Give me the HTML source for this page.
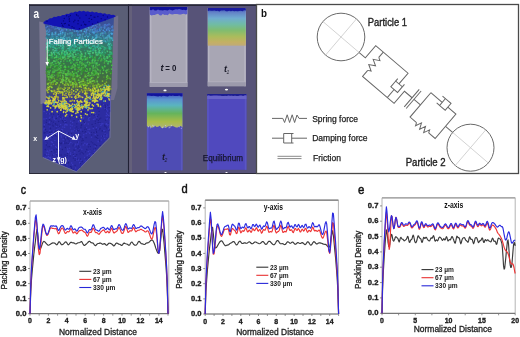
<!DOCTYPE html>
<html><head><meta charset="utf-8"><style>
html,body{margin:0;padding:0;background:#fff;width:520px;height:337px;overflow:hidden}
svg{display:block;filter:blur(0.5px)}
</style></head><body>
<svg width="520" height="337" viewBox="0 0 520 337">
<rect x="29" y="4.5" width="100" height="169" fill="#5a5e76"/>
<rect x="128.5" y="4.5" width="128" height="169" fill="#575378"/>
<rect x="129" y="4.5" width="3" height="169" fill="#64607a"/>
<defs>
<linearGradient id="t1g" x1="0" y1="0" x2="0" y2="1">
<stop offset="0" stop-color="#4058b8"/>
<stop offset="0.1" stop-color="#6484c8"/>
<stop offset="0.25" stop-color="#70acd0"/>
<stop offset="0.42" stop-color="#70bca4"/>
<stop offset="0.58" stop-color="#80bc70"/>
<stop offset="0.75" stop-color="#aabc5c"/>
<stop offset="0.9" stop-color="#c4b064"/>
<stop offset="1" stop-color="#c0aa78"/>
</linearGradient>
<linearGradient id="t2g" x1="0" y1="0" x2="0" y2="1">
<stop offset="0" stop-color="#4a66c4"/>
<stop offset="0.12" stop-color="#5c94d0"/>
<stop offset="0.3" stop-color="#5ab4c0"/>
<stop offset="0.55" stop-color="#66b45c"/>
<stop offset="0.8" stop-color="#a8bc48"/>
<stop offset="1" stop-color="#b0b478"/>
</linearGradient>
</defs>
<polygon points="39.2,21.5 44,22.5 46.4,30 46.3,106 42.5,104 40.5,104" fill="#7a7892"/>
<polygon points="113.5,17 118.2,15.5 117.4,88 114,100 110.8,100" fill="#706e8a"/>
<defs><linearGradient id="pb" gradientUnits="userSpaceOnUse" x1="0" y1="16" x2="0" y2="172"><stop offset="0.051" stop-color="#3a5098"/><stop offset="0.096" stop-color="#3a6090"/><stop offset="0.141" stop-color="#367088"/><stop offset="0.186" stop-color="#347a6c"/><stop offset="0.250" stop-color="#367650"/><stop offset="0.359" stop-color="#3c7044"/><stop offset="0.436" stop-color="#4a6a42"/><stop offset="0.474" stop-color="#4a5a5a"/><stop offset="0.513" stop-color="#404284"/><stop offset="0.564" stop-color="#343498"/></linearGradient></defs>
<polygon points="44.5,23 79,29.5 114,16.5 113.3,30 110.5,112 46.3,112 46.3,32" fill="url(#pb)"/>
<path d="M55.4 52.5h0M60.4 56.1h0M79.6 59.0h0M77.7 50.5h0M103.7 55.4h0M64.3 51.9h0M61.7 52.9h0M48.6 55.3h0M88.1 53.2h0M52.1 56.9h0M56.3 56.3h0M91.1 50.9h0M100.1 50.0h0M72.6 51.3h0M98.5 52.8h0M52.0 57.7h0M99.6 57.5h0M100.9 53.9h0M99.7 53.6h0M89.9 55.2h0M52.7 56.5h0M73.4 55.8h0M98.9 58.6h0M95.0 50.7h0M64.8 52.6h0M104.2 56.9h0M52.2 56.2h0M102.6 54.6h0M61.2 50.5h0M59.5 51.7h0M80.4 54.8h0M111.7 53.0h0M67.6 53.9h0M59.3 57.6h0M112.0 54.0h0M106.1 58.2h0M65.0 54.5h0M50.6 55.5h0M99.2 52.2h0M110.8 52.1h0M60.4 56.1h0M68.1 50.7h0M85.6 54.7h0M88.2 52.8h0M89.6 53.7h0M71.6 53.8h0M87.5 52.4h0M65.9 54.8h0M61.9 53.5h0M57.9 57.2h0M57.1 52.8h0M69.9 50.3h0M76.9 55.1h0" stroke="#30a860" stroke-width="1.7" stroke-linecap="round"/>
<path d="M51.0 30.1h0M107.0 29.8h0M96.3 25.6h0M72.4 29.5h0M92.3 27.1h0M70.3 29.2h0M110.1 24.8h0M94.6 29.0h0M51.3 27.4h0M93.5 26.7h0M110.4 28.5h0M88.4 28.9h0M65.2 28.5h0M87.0 27.1h0M95.5 25.9h0M77.8 32.0h0M99.0 27.2h0M55.4 25.4h0M51.7 26.1h0M100.0 27.2h0M64.2 27.6h0M109.1 24.6h0M53.4 28.0h0M51.2 25.2h0M99.4 27.1h0M104.6 25.2h0M99.9 25.3h0M49.2 26.4h0M94.4 27.7h0M103.3 25.3h0M66.0 28.0h0M66.2 28.9h0M50.3 24.4h0" stroke="#4860a8" stroke-width="1.7" stroke-linecap="round"/>
<path d="M73.1 74.8h0M94.9 74.2h0M106.6 79.4h0M53.5 72.2h0M58.1 75.9h0M98.3 74.4h0M110.6 73.5h0M91.8 72.8h0M94.2 72.3h0M67.4 75.2h0M71.8 75.5h0M58.8 75.8h0M109.4 78.1h0M91.5 78.8h0M58.7 73.8h0M87.8 80.7h0M90.0 79.2h0M57.0 79.6h0M71.8 74.8h0M52.5 77.3h0M73.9 74.4h0M77.6 75.3h0M77.6 75.0h0M91.5 77.6h0M96.2 74.0h0M85.0 76.6h0M48.4 71.0h0M78.0 76.3h0M88.0 79.6h0M94.7 74.4h0M71.0 73.5h0M64.0 73.2h0M52.8 74.4h0M51.8 74.5h0M56.8 79.5h0M73.6 75.7h0M53.5 71.8h0M84.6 77.3h0M79.5 75.7h0M70.4 74.6h0M52.9 72.3h0M47.3 75.9h0" stroke="#48a830" stroke-width="1.7" stroke-linecap="round"/>
<path d="M53.0 36.7h0M62.3 34.8h0M100.8 38.2h0M80.0 36.3h0M90.4 30.6h0M62.5 33.0h0M102.1 33.7h0M79.6 34.6h0M86.2 31.4h0M59.3 29.5h0M103.9 33.2h0M111.8 34.1h0M78.0 35.3h0M109.1 34.2h0M57.1 36.5h0M64.4 33.1h0M94.0 31.7h0M90.8 29.7h0M97.1 34.2h0M92.1 32.4h0M69.6 33.4h0M59.6 34.4h0M47.1 30.3h0M80.6 34.8h0M86.2 32.6h0M46.7 31.7h0M62.9 30.8h0M83.3 33.9h0M110.8 33.1h0M96.1 31.2h0M107.4 37.4h0M109.7 32.0h0M97.9 31.5h0M89.4 33.6h0M90.0 35.4h0M86.4 35.0h0M54.0 34.4h0M48.4 32.0h0M110.6 37.8h0M111.5 37.9h0M55.5 36.3h0M55.7 36.8h0" stroke="#4890c0" stroke-width="1.7" stroke-linecap="round"/>
<path d="M71.3 80.2h0M68.0 73.0h0M78.0 69.5h0M70.5 75.8h0M68.0 74.9h0M50.4 80.0h0M92.3 75.6h0M75.6 78.2h0M78.7 78.9h0M65.2 79.6h0M60.1 71.3h0M99.1 76.0h0M87.9 79.4h0M47.9 77.5h0M56.3 84.5h0M50.2 76.9h0M57.6 72.9h0M74.0 73.6h0M66.0 80.6h0M48.0 80.3h0M103.8 77.1h0M87.5 81.7h0M60.6 74.1h0M65.3 77.2h0M79.3 69.6h0M66.3 78.4h0M57.5 77.2h0M66.1 70.0h0M57.0 74.8h0M74.8 75.8h0M70.2 81.5h0M67.5 82.0h0M75.4 76.0h0M67.0 79.5h0M89.7 83.3h0M80.2 82.9h0M51.3 77.8h0M57.6 74.7h0M75.4 81.4h0M84.3 77.1h0M55.6 84.0h0M48.2 72.3h0M76.2 83.2h0M60.5 76.4h0M96.2 79.5h0M73.8 78.2h0M96.6 75.0h0M58.8 80.6h0M73.0 78.6h0M70.0 77.5h0M81.4 79.7h0M109.0 71.4h0M84.7 74.0h0M73.9 77.9h0M89.5 76.2h0M100.1 71.6h0M65.0 73.9h0M46.3 73.0h0M74.1 83.4h0M94.6 74.0h0M97.3 78.6h0M79.7 81.1h0M58.3 72.6h0M69.6 82.4h0M48.6 67.2h0M59.5 71.0h0M61.8 82.3h0M77.6 80.2h0M68.2 78.1h0M83.0 70.6h0M62.4 77.7h0M108.6 76.6h0M86.1 74.7h0M88.1 73.2h0M66.7 74.6h0" stroke="#489030" stroke-width="1.7" stroke-linecap="round"/>
<path d="M75.3 83.9h0M50.1 80.6h0M65.1 80.7h0M53.2 82.5h0M72.9 79.4h0M62.5 79.4h0M68.9 79.0h0M71.1 81.7h0M62.5 78.7h0M82.3 83.5h0M52.3 82.3h0M94.8 82.0h0M67.7 83.6h0M70.9 83.9h0M60.1 78.7h0M91.5 83.6h0M92.9 77.6h0M83.6 79.8h0M75.0 81.1h0M90.2 83.5h0M94.5 80.8h0M54.2 78.3h0M84.8 82.2h0M106.7 76.6h0M91.7 81.0h0M52.7 81.5h0M79.8 84.3h0M91.7 81.0h0M80.0 82.3h0M73.3 83.0h0M81.2 84.6h0M72.4 78.3h0M99.3 84.6h0M87.9 83.5h0M48.0 83.3h0M80.3 85.0h0M84.2 83.5h0M107.8 78.3h0M51.8 78.3h0M89.2 80.3h0M68.4 80.9h0M53.8 81.5h0M73.4 86.0h0M86.6 86.2h0M55.0 80.0h0M48.4 84.8h0" stroke="#60a830" stroke-width="1.7" stroke-linecap="round"/>
<path d="M94.8 93.9h0M91.5 95.1h0M56.0 96.6h0M61.6 101.9h0M78.8 104.1h0M85.1 105.4h0M63.6 106.7h0M79.4 101.9h0M56.2 95.0h0M70.2 101.1h0M78.7 93.3h0M53.5 102.0h0M78.9 105.5h0M74.3 100.8h0M46.9 102.1h0M78.3 94.1h0M86.7 96.3h0M79.7 95.8h0M80.5 101.6h0M62.8 97.9h0M49.6 101.6h0M76.7 106.8h0M75.9 95.9h0M71.5 92.3h0M84.8 93.6h0M74.9 97.1h0M56.6 93.2h0M54.9 100.8h0M87.5 102.4h0M89.9 102.9h0M97.2 95.2h0" stroke="#d8d830" stroke-width="1.7" stroke-linecap="round"/>
<path d="M65.2 88.2h0M48.4 83.5h0M58.8 88.9h0M58.5 87.1h0M51.0 84.1h0M90.7 89.8h0M64.5 84.8h0M81.3 87.1h0M86.1 85.4h0M100.7 85.9h0M88.5 83.3h0M96.9 86.7h0M68.1 84.4h0M93.7 87.2h0M96.3 87.6h0M85.5 87.7h0M65.9 85.0h0M105.0 83.7h0M75.8 83.1h0M96.9 91.1h0M72.4 84.8h0M55.9 84.2h0M86.6 88.6h0M67.8 89.4h0" stroke="#90c030" stroke-width="1.7" stroke-linecap="round"/>
<path d="M79.7 37.4h0M46.7 44.2h0M52.1 43.9h0M109.6 37.4h0M63.4 46.2h0M95.2 41.4h0M76.0 39.5h0M109.7 40.7h0M54.8 39.9h0M50.5 42.7h0M74.0 42.2h0M53.1 41.4h0M86.7 41.8h0M57.9 44.5h0M66.9 41.4h0M69.2 44.1h0M106.1 41.8h0M89.4 41.4h0M73.7 43.1h0M110.4 43.5h0M80.8 46.3h0M67.4 41.3h0M76.5 40.6h0M110.3 38.1h0M92.3 43.5h0M53.3 38.5h0M107.9 45.0h0M108.7 41.4h0" stroke="#48a8a8" stroke-width="1.7" stroke-linecap="round"/>
<path d="M77.3 75.0h0M55.1 70.5h0M57.4 66.1h0M68.0 58.3h0M96.3 72.3h0M93.1 67.9h0M58.0 67.6h0M80.0 61.8h0M49.1 72.2h0M102.4 67.2h0M71.7 68.3h0M66.7 74.2h0M85.0 65.3h0M93.2 62.6h0M73.5 73.7h0M85.3 66.8h0M65.1 66.0h0M81.6 63.2h0M105.0 61.0h0M80.8 62.1h0M97.7 69.6h0M89.5 62.7h0M58.2 62.2h0M58.2 62.7h0M74.8 69.3h0M85.2 70.6h0M70.9 62.9h0M77.8 64.7h0M79.9 62.7h0M74.8 69.0h0M67.8 73.7h0M73.8 60.3h0M70.7 67.8h0M76.7 73.1h0M86.9 69.1h0M59.6 68.7h0M90.3 75.5h0M92.9 59.2h0M73.8 64.1h0M111.9 65.3h0M95.7 73.4h0M52.9 69.1h0M90.4 64.1h0M68.7 71.4h0M103.6 70.1h0M111.6 69.0h0M51.1 65.2h0M70.7 67.6h0M62.7 58.4h0M64.3 67.0h0M106.0 70.9h0M59.3 72.7h0M72.4 66.0h0M66.0 75.5h0M61.0 67.6h0M99.2 64.6h0M95.3 70.9h0M65.2 69.3h0M48.6 60.9h0M110.8 61.4h0M82.4 64.5h0M96.8 72.7h0M88.9 65.0h0M56.2 65.8h0M70.4 60.5h0M75.0 58.8h0M96.1 71.4h0M86.4 71.0h0M88.3 73.5h0M93.7 62.8h0M51.9 75.5h0M57.7 69.9h0M107.0 70.4h0M95.5 60.2h0M90.0 68.7h0M96.0 72.0h0M65.7 67.2h0M53.9 72.3h0M54.5 66.8h0M63.6 73.2h0M104.9 66.6h0M77.6 75.7h0M81.5 67.9h0M80.4 57.6h0M93.9 75.0h0M55.9 63.4h0M50.2 77.5h0M104.7 66.0h0M89.0 73.8h0M78.4 67.6h0M96.0 65.1h0M79.8 67.4h0M54.6 71.6h0M110.7 61.9h0M54.0 64.5h0M54.4 58.0h0M86.0 58.4h0M68.2 70.7h0M78.2 71.4h0M75.1 65.0h0M66.8 75.4h0M60.9 70.5h0M60.6 70.3h0M76.2 63.2h0M68.7 66.7h0M60.2 65.5h0M92.5 73.2h0M74.5 65.0h0M75.3 65.8h0M83.6 64.0h0M92.1 62.8h0M102.9 68.1h0M87.0 69.4h0" stroke="#48c048" stroke-width="1.7" stroke-linecap="round"/>
<path d="M95.0 29.3h0M59.0 28.4h0M63.9 29.3h0M100.8 27.5h0M56.3 32.0h0M69.8 29.8h0M70.2 33.4h0M90.5 32.4h0M89.8 31.4h0M54.9 28.9h0M95.9 29.0h0M65.3 32.6h0M55.8 34.7h0M109.6 32.8h0M66.9 29.8h0M65.3 34.1h0M61.6 29.1h0M89.6 28.0h0M94.5 28.4h0M68.5 28.4h0M103.0 33.7h0M104.1 27.5h0M97.1 32.3h0M77.1 30.6h0M60.1 31.2h0M55.6 28.5h0M99.5 24.9h0M109.5 32.0h0M71.9 34.1h0M101.8 33.6h0M89.4 30.3h0M101.4 29.2h0M110.7 32.4h0M90.0 30.3h0M48.9 29.2h0M79.5 31.0h0M105.1 32.6h0M81.2 30.4h0M89.0 29.9h0M60.4 27.9h0M56.9 28.3h0M64.6 36.6h0M109.9 28.3h0M77.4 30.6h0M58.9 33.8h0" stroke="#4878a8" stroke-width="1.7" stroke-linecap="round"/>
<path d="M92.6 57.9h0M73.2 58.5h0M73.4 58.8h0M110.7 56.8h0M103.0 60.2h0M76.1 63.3h0M99.6 55.7h0M55.7 60.2h0M101.6 66.6h0M109.9 59.5h0M55.4 54.1h0M62.0 56.3h0M64.5 63.9h0M102.1 54.3h0M79.7 64.9h0M91.9 60.5h0M56.2 54.7h0M93.7 63.9h0M97.2 62.4h0M54.7 65.5h0M68.8 61.5h0M58.8 65.5h0M96.2 65.3h0M94.7 59.6h0M70.7 60.6h0M101.3 56.7h0M52.3 53.0h0M57.4 56.4h0M71.9 62.3h0M85.3 63.6h0M67.6 53.0h0M75.2 58.4h0M47.8 54.0h0M84.2 57.9h0M78.5 65.6h0M112.1 58.5h0M82.8 65.4h0M76.9 58.2h0M62.8 55.3h0M101.8 58.8h0M67.2 61.1h0M54.2 57.5h0M80.2 59.7h0M90.6 56.8h0M58.0 66.8h0M81.3 62.4h0M54.7 64.1h0M86.8 64.3h0M49.2 59.3h0M95.8 56.5h0M109.9 56.4h0M93.5 62.1h0M50.2 57.7h0M85.0 62.5h0M49.7 62.8h0M60.3 57.3h0M59.7 58.0h0M102.4 59.7h0M75.3 59.4h0M109.2 61.9h0M69.4 66.5h0M52.8 62.7h0M81.5 59.2h0M53.3 57.3h0M78.0 66.8h0M89.2 56.9h0M48.5 65.6h0" stroke="#309048" stroke-width="1.7" stroke-linecap="round"/>
<path d="M99.8 29.2h0M76.8 31.1h0M61.8 30.4h0M112.1 30.4h0M106.6 29.9h0M104.6 27.9h0M72.8 29.3h0M87.0 29.8h0M94.3 28.8h0M112.4 33.7h0M112.7 30.4h0M92.6 32.0h0M92.6 29.8h0M95.2 31.3h0M88.6 27.8h0M66.5 29.7h0M99.9 30.7h0M77.9 31.7h0M103.4 30.4h0M57.5 28.2h0M60.6 31.7h0M109.4 30.5h0M86.5 30.1h0M104.9 31.9h0M55.3 32.3h0M94.1 33.5h0M74.6 31.2h0" stroke="#4890d8" stroke-width="1.7" stroke-linecap="round"/>
<path d="M74.4 48.5h0M54.6 50.6h0M69.8 48.6h0M104.4 54.6h0M103.8 53.9h0M101.2 52.3h0M85.5 47.1h0M51.2 53.0h0M104.4 57.6h0M58.7 56.3h0M95.0 47.8h0M92.3 55.7h0M74.6 52.2h0M71.5 56.2h0M68.4 48.3h0M87.5 52.6h0M86.7 50.6h0M105.6 53.0h0M49.3 50.6h0M55.2 47.7h0M110.6 49.0h0M104.5 51.2h0M87.6 51.6h0M98.1 51.2h0M57.8 48.2h0M61.1 56.8h0M58.3 54.3h0M61.2 54.9h0M60.6 56.6h0M80.1 50.9h0M61.7 50.7h0M46.6 51.1h0M63.0 50.9h0M73.0 50.7h0M52.2 51.3h0M92.9 51.8h0M93.6 48.8h0M103.7 51.9h0M106.5 50.1h0M58.3 52.3h0M91.1 47.9h0M52.1 52.7h0M79.0 56.9h0" stroke="#309060" stroke-width="1.7" stroke-linecap="round"/>
<path d="M61.2 39.5h0M56.2 42.4h0M100.1 38.7h0M62.6 42.6h0M51.0 40.9h0M78.7 44.6h0M63.4 42.3h0M88.3 41.6h0M55.7 37.6h0M88.2 44.6h0M75.8 40.4h0M67.4 39.0h0M69.9 38.0h0M52.8 40.0h0M101.0 38.8h0M103.4 40.0h0M63.8 38.5h0M83.2 40.6h0M85.6 41.7h0M75.0 41.7h0M70.0 42.8h0M104.3 40.7h0M75.4 42.2h0M63.0 45.9h0M110.0 40.1h0M57.5 39.4h0M47.8 38.6h0M73.4 43.6h0M86.7 44.5h0M89.5 44.0h0M104.1 39.6h0M109.2 41.9h0M51.8 40.6h0M102.1 41.3h0M96.3 40.0h0M106.3 41.5h0M51.8 40.2h0M72.0 44.6h0M83.0 42.5h0M90.2 41.2h0M92.2 40.1h0M94.2 39.3h0M98.4 40.1h0M55.5 42.1h0M95.2 40.3h0M78.8 39.6h0M61.9 39.8h0M110.7 39.3h0M76.5 39.0h0M83.5 40.2h0M78.9 40.5h0M77.9 38.7h0M75.2 40.1h0M73.5 46.6h0M107.7 41.6h0M96.2 46.6h0M91.0 43.6h0M64.9 42.7h0M63.5 40.1h0M58.1 37.4h0M51.8 39.2h0M109.2 39.9h0M70.7 40.9h0M54.0 43.9h0M56.5 41.8h0M54.8 45.0h0M53.0 42.4h0M53.5 42.2h0M105.7 42.4h0M91.3 41.2h0M60.4 44.5h0" stroke="#309090" stroke-width="1.7" stroke-linecap="round"/>
<path d="M85.3 56.5h0M67.6 56.4h0M104.4 56.5h0M46.9 58.5h0M75.6 56.5h0M95.9 53.7h0M103.7 58.1h0M78.0 57.6h0M80.9 55.3h0M73.1 59.3h0M65.8 58.8h0" stroke="#48a860" stroke-width="1.7" stroke-linecap="round"/>
<path d="M70.7 32.9h0M63.6 33.2h0M87.4 33.3h0M100.6 29.1h0M65.4 37.8h0M82.9 34.1h0M94.8 28.8h0M60.4 34.4h0M77.9 32.2h0M94.9 36.6h0M104.9 32.9h0M64.8 32.6h0M48.0 34.9h0M74.3 30.6h0M84.6 29.6h0M88.5 35.6h0M91.3 31.4h0M53.4 36.8h0M94.0 33.5h0M100.7 34.0h0M98.3 34.2h0M105.3 37.4h0" stroke="#3078a8" stroke-width="1.7" stroke-linecap="round"/>
<path d="M69.5 46.2h0M63.2 48.6h0M53.1 49.8h0M58.1 52.9h0M95.7 52.2h0M54.9 50.8h0M104.6 47.7h0M58.8 45.2h0M73.1 49.6h0M109.8 49.3h0M99.0 52.0h0M88.8 53.5h0M98.5 48.9h0M54.2 53.0h0M67.0 52.9h0M100.8 48.3h0M69.8 48.8h0M79.6 47.8h0M63.5 47.1h0M100.1 47.5h0M99.8 52.6h0M104.6 49.0h0M79.5 48.5h0M109.5 47.4h0M46.8 47.2h0M56.3 50.2h0M53.6 52.3h0M102.3 52.1h0" stroke="#48c090" stroke-width="1.7" stroke-linecap="round"/>
<path d="M79.3 65.0h0M82.2 60.4h0M111.2 58.5h0M101.2 60.2h0M107.0 61.7h0M92.4 56.8h0M60.6 55.9h0M82.2 56.2h0M71.9 62.1h0M56.6 59.7h0M67.1 61.1h0M87.4 59.0h0M105.7 60.4h0M63.3 57.8h0M60.8 57.5h0M69.6 55.1h0M90.5 56.9h0M74.7 58.5h0M77.3 58.9h0M109.6 55.7h0M84.5 59.8h0M83.9 59.2h0M95.3 58.8h0M73.5 57.9h0M94.9 59.2h0M79.2 55.0h0" stroke="#30a848" stroke-width="1.7" stroke-linecap="round"/>
<path d="M60.8 89.1h0M90.3 86.2h0M72.8 85.1h0M93.1 83.3h0M85.2 82.4h0M69.0 83.6h0M93.2 84.0h0M82.8 83.2h0M52.3 84.6h0M90.6 83.2h0M95.9 84.6h0M75.4 83.5h0M58.9 86.6h0M50.5 85.3h0" stroke="#609030" stroke-width="1.7" stroke-linecap="round"/>
<path d="M109.6 37.3h0M96.1 37.6h0M93.8 42.5h0M85.4 39.8h0M54.6 42.0h0M62.9 38.4h0" stroke="#48c0c0" stroke-width="1.7" stroke-linecap="round"/>
<path d="M69.7 81.8h0M66.5 79.2h0M69.7 73.5h0M98.4 74.5h0M70.6 82.0h0M92.4 73.5h0M74.6 79.4h0M65.6 73.9h0M80.2 77.6h0M86.0 76.7h0M63.6 80.5h0M62.6 81.4h0M65.9 77.6h0M51.7 77.1h0M90.2 79.7h0M106.7 77.1h0M77.1 76.6h0M106.6 72.6h0M61.8 79.8h0M78.8 80.2h0M67.3 78.1h0M48.7 79.0h0M93.6 80.6h0M87.3 80.5h0M91.0 81.8h0M97.9 77.2h0M56.6 82.7h0M66.1 81.3h0M50.1 76.1h0M83.0 79.0h0M74.2 78.9h0M51.3 82.6h0M98.2 73.6h0M48.4 76.8h0M69.1 73.9h0M91.7 72.5h0M66.2 74.2h0M97.1 81.2h0M85.3 76.0h0M102.9 73.3h0M88.0 75.6h0M54.4 80.5h0M97.3 81.7h0M89.1 72.6h0M62.9 79.2h0M63.2 76.9h0M61.0 72.3h0M63.3 79.5h0M72.5 71.9h0M91.5 78.1h0M62.8 75.3h0M107.3 75.6h0M73.6 75.5h0" stroke="#60c048" stroke-width="1.7" stroke-linecap="round"/>
<path d="M82.4 81.2h0M80.4 85.6h0M62.8 83.4h0M102.5 81.1h0M83.3 81.2h0M75.7 86.5h0M76.9 84.2h0M57.3 82.9h0M73.1 84.1h0M85.4 84.7h0M97.6 87.7h0M90.1 81.6h0M73.3 86.7h0M83.6 85.5h0M51.5 86.9h0M68.6 85.2h0M96.4 85.5h0M65.9 83.0h0" stroke="#78c030" stroke-width="1.7" stroke-linecap="round"/>
<path d="M53.9 60.9h0M62.4 73.3h0M81.4 68.5h0M76.2 72.8h0M72.0 67.5h0M63.8 63.6h0M101.5 59.1h0M96.1 71.6h0M59.8 58.5h0M83.3 67.8h0M73.1 76.6h0M51.5 63.4h0M100.9 60.8h0M96.6 64.3h0M64.0 71.7h0M69.6 73.6h0M50.6 63.4h0M52.6 72.2h0M86.9 69.2h0M48.9 59.7h0M70.6 73.0h0M80.3 70.3h0M55.2 66.3h0M53.0 71.2h0M84.7 65.4h0M82.0 70.8h0M49.0 61.3h0M64.8 59.5h0M87.3 78.5h0M97.8 65.4h0M70.1 74.8h0M100.3 70.6h0M87.9 61.3h0M70.0 59.5h0M92.2 72.8h0M93.5 70.7h0M50.8 66.1h0M86.8 68.9h0M65.4 57.0h0M92.8 70.2h0M95.8 66.9h0M71.3 67.4h0M61.3 59.7h0M82.3 59.7h0M58.3 59.1h0M72.9 67.3h0M73.6 67.3h0M96.8 72.6h0M100.2 73.2h0M74.4 57.0h0M56.9 60.8h0M47.0 66.9h0M63.7 61.0h0M68.0 72.4h0M50.1 63.4h0M84.1 64.8h0M63.4 71.7h0M95.0 67.7h0M52.3 65.2h0M67.6 75.2h0M81.8 65.3h0M50.4 67.3h0M81.3 74.0h0M64.7 69.8h0M74.8 73.0h0M52.6 76.6h0M56.7 70.4h0M54.6 75.4h0M80.1 69.7h0M107.2 69.8h0M60.4 58.7h0M80.9 59.1h0M74.8 66.9h0M60.2 66.5h0M97.1 68.3h0M78.7 67.5h0M90.6 63.3h0M59.0 64.2h0M62.8 70.5h0M75.5 69.2h0M82.6 64.6h0M54.9 69.8h0M94.9 57.3h0M77.1 62.4h0M60.4 75.5h0M47.6 71.7h0M73.3 75.7h0M82.0 62.8h0M61.6 65.4h0M92.9 71.4h0M95.1 70.1h0M91.8 74.9h0M81.6 69.1h0M47.3 57.3h0M58.7 69.2h0M47.0 64.5h0M82.0 62.7h0M81.2 73.1h0M50.2 70.7h0M49.3 74.1h0M98.5 69.8h0M89.8 69.9h0M87.5 71.0h0M53.8 71.0h0M75.5 69.6h0M49.2 74.2h0M87.4 57.7h0M47.9 74.1h0M93.0 66.2h0M98.0 60.4h0M104.4 62.9h0M94.1 62.8h0" stroke="#48a848" stroke-width="1.7" stroke-linecap="round"/>
<path d="M82.2 70.8h0M68.9 69.4h0M57.3 68.0h0M89.7 73.2h0M86.5 70.2h0M55.0 68.4h0M56.6 66.4h0M67.4 67.2h0M80.5 67.5h0M90.6 64.5h0M57.5 66.4h0M53.0 65.6h0M83.2 65.8h0M111.3 72.2h0M84.4 70.5h0M46.4 70.6h0M101.1 69.5h0M52.7 69.5h0M83.4 68.7h0M93.5 71.9h0M62.0 63.5h0M82.2 72.8h0M70.5 67.4h0M61.6 68.3h0M74.0 72.0h0M88.9 65.7h0M76.6 66.1h0M65.6 70.6h0M75.0 71.3h0M47.2 68.3h0M94.7 73.1h0" stroke="#309030" stroke-width="1.7" stroke-linecap="round"/>
<path d="M110.1 61.2h0M81.0 58.6h0M106.9 56.8h0M106.7 60.6h0M68.0 54.7h0M94.8 61.0h0M108.4 61.7h0M81.9 54.4h0M61.8 53.8h0M69.9 53.7h0M56.6 55.9h0M54.9 57.5h0M100.6 55.7h0M47.4 59.3h0M52.3 62.6h0M85.8 59.5h0M96.9 63.2h0M109.5 56.4h0M93.3 65.8h0M108.0 63.7h0M92.7 60.4h0M92.3 60.9h0M81.2 56.4h0M74.2 56.9h0M76.9 60.0h0M87.3 62.6h0M64.1 57.6h0M69.2 56.7h0M69.6 54.0h0M64.4 56.0h0M81.4 56.7h0M55.0 61.4h0M51.5 55.1h0M69.7 60.6h0M48.5 60.0h0M104.7 59.0h0M95.9 63.0h0M78.3 60.0h0M53.9 61.0h0M107.6 58.1h0M68.9 56.8h0M63.6 57.7h0M52.0 54.6h0M98.2 54.0h0M56.4 57.3h0M60.8 61.5h0M59.8 63.2h0M86.0 65.7h0M89.8 57.5h0" stroke="#48c060" stroke-width="1.7" stroke-linecap="round"/>
<path d="M53.8 47.6h0M84.6 50.5h0M62.3 44.7h0M47.0 44.0h0M109.6 45.9h0M51.8 46.0h0M74.9 45.9h0M78.1 47.6h0M83.8 47.0h0M79.7 46.1h0M100.0 46.9h0M70.1 47.2h0M61.5 46.5h0M47.1 47.4h0M51.7 45.9h0M99.0 44.8h0M111.2 48.7h0M90.3 48.3h0M81.7 45.8h0M100.7 44.8h0M59.8 48.0h0M47.5 47.8h0M56.4 45.8h0M108.2 48.1h0M102.6 46.5h0M85.4 43.0h0M104.3 48.4h0M102.3 50.9h0M108.9 44.4h0M75.9 46.6h0M71.7 48.1h0M82.7 47.1h0M54.0 46.9h0M47.7 48.5h0M81.4 44.4h0M56.0 48.7h0M86.5 40.5h0" stroke="#309078" stroke-width="1.7" stroke-linecap="round"/>
<path d="M84.2 88.5h0M62.7 88.8h0M46.8 89.7h0M100.7 91.2h0M67.7 91.8h0M51.0 90.6h0M110.8 88.9h0M87.4 93.3h0M70.9 85.2h0M60.9 88.0h0M69.2 87.7h0M87.6 90.4h0M104.0 87.5h0M80.3 86.3h0M86.3 93.3h0M57.2 91.4h0M79.8 91.7h0M54.1 90.3h0M82.6 92.1h0M53.9 91.4h0M81.5 89.9h0M57.3 89.2h0M92.5 89.3h0M102.7 84.9h0M106.3 88.8h0" stroke="#90a830" stroke-width="1.7" stroke-linecap="round"/>
<path d="M97.8 30.2h0M47.5 26.5h0M93.2 25.5h0M111.7 26.9h0M51.3 25.1h0M107.7 24.9h0M104.9 24.8h0M92.4 26.1h0M91.2 27.6h0M95.2 25.5h0M86.0 29.2h0M95.1 28.4h0M58.8 28.7h0" stroke="#4878d8" stroke-width="1.7" stroke-linecap="round"/>
<path d="M92.8 100.6h0M79.5 103.0h0M65.1 97.5h0M57.7 97.0h0M64.9 95.1h0M101.5 90.1h0M69.0 95.0h0M86.5 95.4h0M86.7 98.1h0M63.0 99.4h0M84.5 104.9h0M82.4 106.7h0M80.6 100.7h0M76.3 107.0h0M51.8 97.2h0M56.0 94.5h0M78.6 95.7h0M85.6 92.6h0M62.8 94.3h0M78.8 97.1h0M47.9 97.9h0M52.5 100.9h0M107.9 94.1h0M53.2 99.4h0M60.9 101.2h0M87.8 97.5h0M79.7 108.3h0M68.7 94.3h0M58.8 91.2h0M55.2 92.3h0M82.4 108.1h0M53.0 98.2h0M78.1 103.8h0M81.0 96.8h0M62.8 92.2h0M66.9 97.4h0M93.4 93.9h0M92.4 100.9h0M76.9 94.9h0M50.0 103.4h0M55.6 97.4h0M46.6 97.0h0M53.8 93.9h0M85.6 94.2h0M71.8 97.2h0" stroke="#c0c030" stroke-width="1.7" stroke-linecap="round"/>
<path d="M76.6 37.9h0M71.4 40.7h0M50.5 39.9h0M60.5 43.5h0M62.8 42.2h0M79.4 39.3h0M79.1 38.1h0M49.4 43.1h0M55.5 43.8h0M68.3 42.3h0M56.5 41.8h0M73.0 39.7h0" stroke="#30a8a8" stroke-width="1.7" stroke-linecap="round"/>
<path d="M70.2 51.2h0M65.9 54.2h0M50.6 47.3h0M75.0 52.1h0M104.1 49.8h0M105.8 48.1h0M61.9 51.3h0M105.2 52.5h0M91.1 47.4h0M46.6 48.3h0M110.8 54.0h0M74.7 52.0h0M109.9 47.3h0M63.4 48.2h0M59.2 47.5h0M90.7 56.2h0M73.8 52.3h0M56.9 52.3h0M97.2 53.0h0M104.9 48.0h0M71.2 46.9h0M97.3 47.2h0M96.0 50.5h0M103.1 46.6h0M111.3 52.7h0M67.2 46.0h0M81.2 47.2h0M108.3 54.8h0M101.8 46.1h0M81.2 46.5h0M75.7 50.4h0M63.5 49.9h0M57.0 48.6h0M62.6 51.3h0M62.6 47.1h0M47.9 47.8h0M78.1 53.5h0M76.8 50.1h0M109.4 49.1h0M71.3 50.2h0M74.3 49.3h0M95.4 48.4h0M72.9 49.2h0M109.9 54.2h0M79.3 50.4h0M53.3 45.9h0M77.9 47.9h0M93.0 49.0h0M66.4 50.4h0M46.3 49.2h0M48.1 52.1h0M101.8 53.7h0" stroke="#30a878" stroke-width="1.7" stroke-linecap="round"/>
<path d="M80.8 41.7h0M88.0 36.5h0M95.0 41.3h0M70.5 38.9h0M63.6 39.6h0M52.6 36.5h0M66.5 37.6h0M72.2 35.2h0M60.2 35.1h0M71.4 33.1h0M49.9 42.4h0M67.9 43.9h0M76.5 39.1h0M108.5 35.8h0M92.5 36.8h0M59.7 42.6h0M87.8 39.2h0M64.3 39.0h0M61.5 38.2h0M52.1 36.2h0M94.5 41.8h0M75.6 40.7h0M89.6 39.9h0" stroke="#3090a8" stroke-width="1.7" stroke-linecap="round"/>
<path d="M46.1 27.7h0M105.3 24.6h0M85.4 28.8h0M99.6 24.4h0M85.2 28.2h0M108.6 28.8h0M96.1 31.4h0M55.0 28.0h0M62.2 29.5h0M74.3 29.8h0M57.1 27.9h0M108.5 27.8h0M49.9 24.6h0M104.2 26.7h0M77.6 34.2h0M96.7 26.7h0M103.1 33.4h0M49.4 30.2h0M49.5 31.6h0M101.8 27.3h0M58.3 27.8h0M108.8 29.1h0M53.4 27.0h0M112.6 26.2h0M107.3 28.4h0M113.0 30.1h0M56.3 25.9h0M62.5 29.9h0M108.3 29.4h0M95.3 32.0h0M85.8 32.9h0M70.3 30.1h0M109.0 24.1h0M105.0 26.8h0M106.7 25.4h0M95.2 30.9h0M60.6 27.4h0M101.0 27.0h0M112.3 27.7h0" stroke="#4878c0" stroke-width="1.7" stroke-linecap="round"/>
<path d="M82.2 36.3h0M55.6 33.6h0M111.9 38.2h0M47.0 33.9h0M85.1 36.5h0M92.5 38.9h0M56.7 38.4h0M89.5 41.5h0M67.0 39.0h0M92.9 37.3h0M64.3 36.2h0M50.0 41.0h0M94.6 39.2h0M51.1 38.3h0M60.8 37.8h0M82.8 38.4h0M106.7 37.4h0M98.4 41.0h0M111.5 38.4h0M65.0 34.9h0M92.7 41.1h0M100.5 35.0h0M63.2 39.4h0M103.6 36.6h0M87.9 36.6h0M95.4 38.5h0M70.4 33.2h0M54.9 40.1h0M95.7 40.9h0M102.1 33.1h0M96.7 37.6h0M105.3 41.2h0M69.6 39.4h0M105.7 38.1h0M83.5 39.6h0M46.4 38.0h0M64.3 38.7h0M64.6 39.6h0M63.2 37.5h0M58.7 38.7h0M108.0 35.8h0M60.9 37.3h0M49.7 41.0h0M112.6 40.2h0" stroke="#48a8c0" stroke-width="1.7" stroke-linecap="round"/>
<path d="M98.4 94.2h0M97.7 94.1h0M69.8 96.7h0M94.1 93.7h0M87.5 100.0h0M85.6 93.6h0M77.2 107.2h0M70.4 94.6h0M68.2 108.6h0M63.4 104.9h0M62.7 95.5h0M86.9 103.4h0M58.7 93.3h0M72.4 100.3h0M85.5 91.5h0M92.7 98.3h0M85.3 98.7h0M66.2 95.5h0M53.6 93.7h0M78.9 102.4h0M54.4 106.3h0M93.5 93.0h0M68.7 93.6h0M69.8 106.5h0M71.0 101.2h0M60.7 93.0h0M82.6 91.8h0M57.9 99.1h0M58.3 97.4h0M54.7 90.9h0M76.9 97.5h0M71.7 93.9h0M48.8 100.7h0" stroke="#a8a830" stroke-width="1.7" stroke-linecap="round"/>
<path d="M82.2 36.5h0M82.7 34.1h0M76.1 38.9h0M72.2 32.9h0M106.5 38.6h0M95.4 35.5h0M97.7 37.0h0M69.3 37.3h0M61.1 39.3h0M104.1 38.3h0M99.3 37.1h0M103.2 36.0h0M67.7 33.9h0M81.2 39.1h0M90.3 34.9h0M109.1 36.9h0M75.2 35.4h0M58.4 38.6h0M82.5 37.8h0M100.6 33.6h0M107.5 38.4h0M72.0 36.4h0M102.7 35.6h0M65.1 35.5h0M105.5 33.3h0M103.1 41.0h0M107.5 40.1h0M65.4 33.0h0M59.8 40.3h0M74.4 39.7h0M97.5 35.8h0M91.9 39.1h0M74.4 41.0h0M75.9 39.0h0M80.5 37.3h0M68.0 37.5h0M109.3 32.0h0" stroke="#4890a8" stroke-width="1.7" stroke-linecap="round"/>
<path d="M109.4 86.7h0M72.8 82.9h0M51.9 87.5h0M98.1 84.0h0" stroke="#90d830" stroke-width="1.7" stroke-linecap="round"/>
<path d="M95.6 26.8h0M56.2 27.5h0M54.2 27.8h0M102.6 26.3h0M98.4 30.1h0" stroke="#3060a8" stroke-width="1.7" stroke-linecap="round"/>
<path d="M62.6 35.3h0M72.8 36.9h0M62.9 41.9h0M75.5 35.3h0M46.4 36.7h0M90.4 41.3h0M100.0 39.9h0M73.7 34.7h0M68.2 30.7h0M70.2 33.0h0M95.2 35.6h0M54.4 37.1h0M95.5 40.8h0M48.8 41.0h0M90.4 35.5h0M87.6 34.2h0M105.6 34.3h0M96.8 33.8h0M55.0 36.4h0M109.9 32.6h0M74.9 38.2h0M104.2 36.3h0M81.4 36.7h0M79.7 39.2h0M46.7 42.7h0" stroke="#307890" stroke-width="1.7" stroke-linecap="round"/>
<path d="M64.1 53.8h0M70.6 52.1h0M66.1 51.2h0M90.5 51.4h0M54.6 54.6h0M90.6 48.5h0M77.0 49.7h0M65.2 54.9h0" stroke="#30c078" stroke-width="1.7" stroke-linecap="round"/>
<path d="M49.2 45.8h0M74.5 44.6h0M98.1 44.8h0M47.3 43.5h0M47.7 45.9h0M72.6 45.4h0M75.8 46.4h0M46.7 47.2h0M62.5 48.1h0M56.6 44.6h0M97.8 46.8h0M62.9 44.9h0M91.6 42.9h0M94.5 45.8h0M84.9 44.9h0M48.4 42.2h0M89.9 43.6h0M109.3 44.5h0M109.9 47.0h0M98.8 41.3h0M68.1 48.5h0M63.1 42.6h0M89.2 47.7h0M108.6 43.8h0M60.8 45.8h0M48.0 43.7h0M75.2 43.3h0" stroke="#48c0a8" stroke-width="1.7" stroke-linecap="round"/>
<path d="M93.3 52.8h0M89.7 51.5h0M62.8 57.1h0M67.3 53.1h0M74.9 50.6h0M95.4 50.4h0M61.9 52.5h0M72.8 54.1h0M85.4 53.1h0M99.4 50.6h0M51.3 52.5h0M62.9 50.5h0M90.0 51.3h0M107.4 51.4h0M70.7 55.9h0M80.8 51.8h0M84.4 56.4h0M109.9 52.0h0M55.5 48.3h0M51.9 53.6h0M73.8 52.3h0M87.9 51.1h0M96.4 54.9h0M81.5 53.5h0M107.7 57.0h0M59.5 54.1h0M97.6 55.0h0M69.1 56.3h0M75.7 54.3h0M99.4 50.7h0M89.8 53.5h0M73.0 54.9h0M92.7 52.9h0M64.7 51.9h0M49.7 55.2h0M64.9 51.8h0M72.9 57.0h0M48.5 50.3h0M95.8 52.5h0" stroke="#48c078" stroke-width="1.7" stroke-linecap="round"/>
<path d="M77.7 101.7h0M90.1 97.2h0M62.9 103.2h0M68.2 104.0h0M70.0 109.5h0M66.0 101.8h0M61.1 104.5h0M54.6 96.9h0M80.4 107.7h0" stroke="#d8c030" stroke-width="1.7" stroke-linecap="round"/>
<path d="M47.2 90.7h0M94.9 92.1h0M93.5 91.2h0M97.7 91.2h0M71.8 89.4h0M85.1 90.3h0M66.0 93.3h0M62.6 93.3h0M57.3 91.7h0M69.1 88.1h0M106.8 87.9h0M97.3 90.4h0M92.7 88.5h0M66.2 90.8h0M49.9 96.7h0M92.7 89.7h0M94.9 88.7h0M95.1 89.5h0M48.0 92.4h0M64.5 91.3h0M93.0 92.3h0M89.3 90.0h0M93.0 93.0h0M98.5 89.3h0M90.4 90.3h0M95.9 90.5h0M88.7 88.4h0M60.6 92.0h0M97.6 92.4h0M57.8 89.2h0M92.0 90.8h0M102.6 89.0h0M95.6 94.7h0M69.3 92.2h0M74.0 94.0h0" stroke="#a8c030" stroke-width="1.7" stroke-linecap="round"/>
<path d="M105.4 85.2h0M101.2 85.3h0M76.1 89.3h0M87.4 85.3h0M103.5 91.5h0M47.8 87.1h0M92.8 86.2h0M50.0 82.6h0M106.4 82.2h0M59.8 88.3h0M64.5 87.4h0M97.8 85.3h0M84.1 85.2h0M93.0 85.4h0M47.5 88.4h0M73.0 87.5h0M73.6 85.0h0M77.6 86.5h0M61.5 81.0h0M94.4 85.7h0M59.4 85.0h0M77.7 86.6h0M109.8 88.3h0" stroke="#78a830" stroke-width="1.7" stroke-linecap="round"/>
<path d="M50.7 102.4h0M70.7 108.8h0M72.2 109.1h0M70.9 110.7h0M61.6 108.3h0" stroke="#c0a830" stroke-width="1.7" stroke-linecap="round"/>
<path d="M77.7 44.6h0M62.1 48.7h0M86.2 44.5h0M73.8 49.8h0M95.6 41.7h0M88.3 45.7h0M69.2 50.3h0M56.7 50.6h0M54.7 43.5h0M80.0 44.8h0M111.5 45.2h0M92.6 46.2h0M97.1 46.6h0M109.8 43.5h0M100.1 40.9h0M50.7 46.2h0M93.7 45.8h0M93.0 50.5h0M70.9 46.4h0M71.1 42.1h0M85.2 45.0h0M74.9 46.9h0M90.4 43.1h0M46.5 43.3h0M66.3 44.0h0M77.0 49.5h0M110.5 47.7h0M94.0 45.7h0M75.2 45.4h0M59.5 41.7h0M52.9 47.2h0M54.4 47.8h0M108.9 46.6h0M69.5 47.8h0M93.6 49.3h0M95.2 47.4h0M50.7 44.1h0" stroke="#30a890" stroke-width="1.7" stroke-linecap="round"/>
<path d="M59.7 91.8h0M51.8 91.1h0M64.0 89.7h0M73.6 90.8h0M85.7 93.3h0M61.8 92.0h0M93.3 90.3h0M77.6 89.8h0M90.2 89.7h0" stroke="#c0d830" stroke-width="1.7" stroke-linecap="round"/>
<path d="M96.5 27.5h0M107.4 25.4h0M52.5 26.7h0M52.6 26.3h0M97.3 24.3h0" stroke="#4860c0" stroke-width="1.7" stroke-linecap="round"/>
<path d="M90.9 33.0h0" stroke="#306090" stroke-width="1.7" stroke-linecap="round"/>
<path d="M53.3 84.2h0M76.9 85.2h0M87.5 90.3h0M68.5 91.0h0M67.4 87.6h0M77.6 86.9h0M85.0 89.1h0M82.9 90.5h0M93.5 88.6h0M69.9 90.7h0M99.9 86.5h0M75.5 87.0h0M83.6 88.0h0" stroke="#789030" stroke-width="1.7" stroke-linecap="round"/>
<path d="M84.4 31.5h0M52.2 33.0h0M62.6 32.5h0M52.1 34.6h0M79.3 37.9h0M81.2 30.8h0M93.9 32.7h0M60.6 33.4h0M96.1 35.1h0M96.5 37.1h0M109.4 36.0h0M49.1 34.6h0M111.5 33.7h0M58.4 34.6h0" stroke="#48a8d8" stroke-width="1.7" stroke-linecap="round"/>
<path d="M48.5 87.5h0M99.5 86.6h0M76.0 91.8h0M79.7 86.5h0M100.8 88.9h0M103.1 89.5h0M83.7 85.4h0M51.9 91.4h0M85.3 87.9h0M48.8 89.4h0M49.9 86.6h0M104.7 88.2h0" stroke="#a8d830" stroke-width="1.7" stroke-linecap="round"/>
<path d="M72.5 84.3h0M47.5 84.1h0M90.0 82.2h0M54.9 81.3h0M68.9 80.0h0M81.1 81.7h0M75.7 84.8h0M61.9 82.0h0M92.6 81.2h0M106.3 85.5h0M76.3 84.4h0M60.7 82.3h0M69.7 81.6h0" stroke="#78c048" stroke-width="1.7" stroke-linecap="round"/>
<path d="M91.7 65.9h0M54.4 69.6h0M57.1 69.0h0M108.6 69.3h0" stroke="#489048" stroke-width="1.7" stroke-linecap="round"/>
<path d="M49.2 88.5h0M86.5 89.9h0M89.4 89.2h0M90.6 91.6h0M71.9 92.4h0M76.3 95.1h0" stroke="#909030" stroke-width="1.7" stroke-linecap="round"/>
<path d="M59.4 104.8h0M63.0 101.2h0M72.1 107.4h0M53.8 100.3h0M54.2 99.7h0" stroke="#f0d830" stroke-width="1.7" stroke-linecap="round"/>
<path d="M54.0 80.9h0M74.2 83.7h0M83.0 84.4h0M87.2 83.0h0" stroke="#60c030" stroke-width="1.7" stroke-linecap="round"/>
<path d="M86.1 46.0h0M100.1 48.1h0M109.5 48.5h0" stroke="#30c090" stroke-width="1.7" stroke-linecap="round"/>
<path d="M53.0 76.7h0M110.3 78.8h0" stroke="#60a848" stroke-width="1.7" stroke-linecap="round"/>
<path d="M79.2 82.6h0" stroke="#78d848" stroke-width="1.7" stroke-linecap="round"/>
<path d="M99.0 41.4h0" stroke="#307878" stroke-width="1.7" stroke-linecap="round"/>
<polygon points="42.5,103.2 43.0,103.2 45.0,104.2 47.0,104.3 49.0,105.3 51.0,105.3 53.0,107.2 55.0,107.7 57.0,106.5 59.0,109.0 61.0,109.4 63.0,108.5 65.0,110.3 67.0,111.0 69.0,111.0 71.0,110.7 73.0,111.1 75.0,111.2 77.0,109.9 79.0,110.1 81.0,108.7 83.0,108.2 85.0,109.0 87.0,106.9 89.0,106.5 91.0,104.5 93.0,103.8 95.0,101.5 97.0,99.6 99.0,99.8 101.0,97.8 103.0,96.8 105.0,96.7 107.0,96.3 109.0,96.8 110.5,95.5 109.5,137.0 76.5,171.5 42.5,157.0" fill="#2c2ca2"/>
<polyline points="110.6,96 110,137.5 76.5,171.8 43,157.5" fill="none" stroke="#7878b8" stroke-width="0.8" opacity="0.8"/>
<clipPath id="bedc"><polygon points="42.5,103.2 43.0,103.2 45.0,104.2 47.0,104.3 49.0,105.3 51.0,105.3 53.0,107.2 55.0,107.7 57.0,106.5 59.0,109.0 61.0,109.4 63.0,108.5 65.0,110.3 67.0,111.0 69.0,111.0 71.0,110.7 73.0,111.1 75.0,111.2 77.0,109.9 79.0,110.1 81.0,108.7 83.0,108.2 85.0,109.0 87.0,106.9 89.0,106.5 91.0,104.5 93.0,103.8 95.0,101.5 97.0,99.6 99.0,99.8 101.0,97.8 103.0,96.8 105.0,96.7 107.0,96.3 109.0,96.8 110.5,95.5 109.5,137.0 76.5,171.5 42.5,157.0"/></clipPath>
<path clip-path="url(#bedc)" d="M90.0 132.7h0M73.1 143.6h0M52.6 123.7h0M83.9 166.0h0M83.7 117.8h0M107.9 156.5h0M58.7 128.3h0M46.2 154.3h0M58.4 158.5h0M91.4 155.2h0M81.3 120.0h0M46.4 143.2h0M44.9 138.3h0M95.1 113.3h0M72.8 139.7h0M54.0 117.3h0M84.3 115.5h0M54.0 118.6h0M105.8 163.2h0M51.3 141.8h0M71.1 106.0h0M60.6 146.9h0M45.3 167.3h0M62.8 127.0h0M106.6 113.2h0M52.6 135.2h0M64.7 125.1h0M82.5 166.7h0M71.4 106.9h0M68.6 160.3h0M72.6 108.0h0M60.5 119.0h0M67.1 125.0h0M88.3 151.5h0M46.9 113.6h0M98.3 161.8h0M96.0 115.7h0M89.7 109.0h0M88.6 118.6h0M99.4 159.7h0M74.8 151.9h0M106.3 162.9h0M86.7 144.7h0M67.6 149.1h0M53.3 134.2h0M49.6 110.1h0M88.1 132.1h0M57.7 166.6h0M63.2 139.6h0M76.4 116.2h0M109.6 154.1h0M102.9 123.8h0M104.1 164.1h0M106.2 115.7h0M54.3 109.5h0M49.9 150.3h0M47.3 134.7h0M67.4 152.1h0M47.1 151.6h0M107.2 123.6h0M70.6 152.9h0M64.2 159.9h0M109.8 118.7h0M75.0 113.6h0M80.8 130.0h0M108.2 152.0h0M109.5 157.5h0M98.4 129.2h0M87.9 111.5h0M67.0 164.8h0M108.7 115.4h0M76.7 130.7h0M84.9 143.2h0M61.2 162.1h0M73.7 155.2h0M91.7 168.7h0M78.0 142.9h0M94.9 119.1h0M47.0 157.7h0M89.8 153.5h0M96.8 117.2h0M101.9 146.3h0M106.3 140.7h0M101.1 107.8h0M54.9 140.5h0M88.1 129.5h0M48.8 162.5h0M48.7 162.7h0M59.4 150.6h0M83.1 119.6h0M65.7 119.9h0M79.2 122.3h0M79.9 122.6h0M51.9 150.0h0M61.3 166.6h0M70.7 121.3h0M91.4 163.5h0M68.4 152.4h0M65.9 169.6h0M63.8 106.4h0M44.3 139.8h0M85.2 122.9h0M71.3 131.0h0M68.0 116.5h0M79.9 148.0h0M45.8 162.2h0M61.1 135.4h0M58.4 148.4h0M70.8 142.4h0M70.9 137.5h0M49.7 168.8h0M72.1 125.8h0M99.9 123.4h0M96.2 132.0h0M51.7 141.9h0M62.5 117.3h0M109.3 165.8h0M75.1 157.3h0M88.2 124.0h0M52.5 142.4h0M56.6 153.8h0M83.3 118.5h0M95.3 167.9h0M75.7 168.0h0M73.7 105.2h0M74.5 127.3h0M104.6 138.5h0M107.4 114.7h0M69.3 104.9h0M47.4 150.9h0M46.2 118.7h0M72.7 164.8h0M59.6 104.3h0M90.3 150.0h0M53.2 165.2h0M101.1 165.8h0M98.4 140.1h0M90.3 112.2h0M86.5 127.4h0M66.2 124.7h0M49.3 157.5h0M94.4 104.6h0M77.9 105.5h0M80.0 115.0h0M107.4 125.0h0M78.5 121.3h0M103.7 104.5h0M64.0 118.9h0M93.3 128.5h0M100.9 125.6h0M52.3 134.0h0M49.7 114.1h0M78.5 141.9h0M58.1 115.9h0M78.4 133.4h0M75.8 148.3h0M53.3 104.8h0M48.3 156.5h0M90.4 114.1h0M65.8 124.3h0M104.9 131.2h0M91.1 109.7h0M46.7 118.9h0M86.3 133.5h0M101.6 158.3h0M87.9 169.8h0M107.4 162.3h0M49.9 130.4h0M53.6 144.4h0M77.3 110.1h0M49.2 134.7h0M85.2 130.8h0M75.1 145.9h0M90.1 150.7h0M71.4 115.3h0M101.4 106.7h0M57.6 116.6h0M83.2 145.0h0M50.6 138.0h0M81.9 149.3h0M48.9 152.0h0M61.8 129.4h0M52.2 159.6h0M84.8 157.6h0M78.0 111.3h0M70.5 109.2h0M50.5 157.2h0M44.0 129.7h0M46.8 154.4h0M109.4 106.2h0M68.0 168.4h0M60.6 124.5h0M109.2 164.8h0M69.5 148.3h0M96.4 127.4h0M44.1 128.7h0M89.7 167.6h0M73.1 131.1h0M69.1 144.1h0M45.5 164.2h0M107.0 106.1h0M44.4 124.7h0M53.6 154.8h0M101.4 140.0h0M106.3 119.1h0M56.9 129.3h0M73.8 117.1h0M104.8 153.6h0M63.0 118.9h0M62.7 130.1h0M87.2 155.2h0M106.7 109.4h0M56.9 129.1h0M106.8 134.2h0M91.5 158.7h0M74.4 128.9h0M95.2 146.3h0M109.5 121.9h0M106.9 136.1h0M101.3 146.3h0M81.2 160.5h0M49.3 122.5h0M76.2 158.1h0M56.3 155.5h0M49.8 127.1h0M74.6 151.2h0M78.5 160.1h0M89.7 129.3h0M78.4 129.7h0M101.6 124.0h0M55.9 120.1h0M60.5 157.4h0M89.3 120.2h0M71.7 163.1h0M107.4 118.7h0M106.3 107.8h0M109.9 125.2h0M107.0 106.1h0M89.4 165.0h0M98.1 141.8h0M54.3 119.6h0M106.2 161.2h0M58.6 126.7h0M84.5 124.0h0M58.1 161.3h0M51.3 145.8h0M70.8 135.0h0M101.5 153.2h0M95.1 105.1h0M97.5 156.3h0M44.0 118.9h0M92.2 161.4h0M79.6 162.7h0M49.8 121.1h0M98.1 156.4h0M58.7 141.6h0M72.9 152.8h0M70.3 125.1h0M94.3 149.9h0M67.9 151.1h0M61.3 137.0h0M56.4 126.7h0M71.6 109.8h0M64.6 127.2h0M65.6 137.4h0M103.4 160.1h0M63.5 112.9h0M49.8 162.4h0M94.2 152.8h0M103.9 130.5h0M55.3 110.0h0M70.4 154.7h0M49.6 132.9h0M49.4 118.1h0M80.5 146.9h0M106.2 125.1h0M59.3 108.1h0M56.4 106.3h0M44.1 111.6h0M79.4 134.1h0M103.8 136.1h0M49.7 113.6h0M90.2 168.7h0M93.5 119.5h0M66.8 132.9h0M72.6 122.6h0M54.2 105.7h0M102.1 168.4h0M108.6 129.1h0M89.4 117.6h0M51.4 104.2h0M66.0 156.7h0M78.8 119.4h0M75.8 139.7h0M56.9 133.5h0M105.3 133.5h0M109.4 151.7h0M52.5 164.6h0M89.7 133.2h0M56.5 147.5h0M56.6 134.5h0M54.0 131.3h0M107.8 143.5h0M77.8 144.8h0M87.2 143.8h0M62.8 118.0h0M84.0 165.3h0M101.5 136.2h0M63.5 142.8h0M47.1 136.8h0M95.7 167.9h0M50.0 117.2h0M75.7 144.2h0M107.6 111.1h0M52.5 136.0h0M96.4 105.9h0M69.1 150.9h0M71.8 115.8h0M48.7 154.2h0M77.7 139.5h0M89.1 154.3h0M70.5 128.1h0M104.7 109.0h0M95.3 134.4h0M79.2 120.5h0M106.2 124.1h0M65.2 107.9h0M102.8 158.8h0M47.3 113.8h0M63.0 105.9h0M76.8 160.0h0M91.5 137.2h0M108.6 124.1h0M65.0 121.5h0M83.8 134.8h0M52.2 136.5h0M107.8 161.9h0M85.2 160.9h0M76.1 136.8h0M89.9 117.3h0M83.2 137.1h0M63.7 136.8h0M55.7 146.4h0M51.6 133.5h0M47.7 139.6h0M50.4 158.4h0M45.2 157.2h0M63.7 167.0h0M65.7 113.5h0M88.2 120.1h0" stroke="#3a3ac0" stroke-width="1.5" stroke-linecap="round"/>
<path clip-path="url(#bedc)" d="M97.7 135.5h0M61.6 143.0h0M58.7 121.5h0M49.4 119.7h0M58.4 114.5h0M71.5 133.7h0M83.2 140.4h0M89.0 144.5h0M75.1 160.4h0M53.3 122.1h0M44.8 164.0h0M102.1 130.9h0M99.6 141.1h0M105.4 163.5h0M65.9 122.4h0M71.4 167.1h0M74.9 127.9h0M45.6 129.4h0M105.1 131.7h0M96.5 163.2h0M105.9 152.4h0M76.8 123.8h0M106.1 157.1h0M93.1 107.7h0M86.8 149.5h0M52.9 125.6h0M74.0 120.7h0M51.1 114.0h0M74.2 104.9h0M96.4 131.5h0M62.4 120.6h0M64.9 143.5h0M91.2 132.4h0M91.2 141.8h0M97.5 152.1h0M94.5 105.6h0M67.2 111.6h0M98.8 114.8h0M105.0 126.6h0M54.1 150.0h0M56.2 128.0h0M73.0 145.8h0M78.2 147.8h0M96.3 167.8h0M85.0 132.1h0M76.8 126.9h0M99.0 140.1h0M90.0 158.1h0M90.0 162.5h0M74.0 150.0h0M102.4 136.2h0M98.2 122.4h0M54.5 160.3h0M80.4 167.5h0M83.5 121.0h0M52.0 163.3h0M60.7 114.9h0M78.9 151.4h0M81.9 107.1h0M95.6 148.6h0M65.4 164.9h0M76.7 154.7h0M50.0 124.3h0M93.9 149.1h0M90.3 149.8h0M45.8 160.5h0M46.7 120.0h0M64.0 137.0h0M50.3 132.3h0M53.2 126.1h0M66.7 111.5h0M97.0 106.0h0M57.3 162.9h0M70.7 166.4h0M64.3 138.2h0M78.8 130.7h0M109.3 130.5h0M96.6 137.5h0M67.0 159.8h0M105.0 105.0h0M83.5 153.8h0M77.5 130.7h0M91.5 114.4h0M75.3 117.2h0M101.0 155.9h0M70.2 155.9h0M79.8 147.2h0M59.8 155.0h0M86.8 169.8h0M61.3 130.6h0M95.4 121.1h0M94.5 160.1h0M55.0 152.0h0M63.2 122.0h0M67.2 155.4h0M86.1 129.3h0M89.0 157.6h0M56.9 161.1h0M78.4 146.0h0M100.8 118.1h0M74.9 150.8h0M45.1 129.8h0M79.8 133.6h0M77.3 159.2h0M51.5 151.5h0M62.6 109.5h0M74.5 112.5h0M74.3 115.1h0M73.3 113.0h0M109.7 117.8h0M73.3 143.9h0M88.5 112.5h0M100.0 128.5h0M49.5 132.4h0M85.1 127.8h0M92.1 124.5h0M97.8 165.6h0M97.9 108.1h0M71.7 139.1h0M69.3 116.3h0M82.8 111.9h0M55.0 131.6h0M109.8 129.3h0M107.7 148.4h0M86.7 164.3h0M82.5 152.8h0M75.2 156.5h0M101.8 104.1h0M105.7 106.1h0M86.2 108.8h0M93.9 132.6h0M53.0 159.6h0M60.3 163.5h0M69.3 140.9h0M73.4 154.3h0M67.4 137.9h0M59.2 126.3h0M51.3 121.2h0M62.4 149.5h0M53.6 114.2h0M108.2 146.4h0M49.7 161.1h0M94.1 144.2h0M107.5 139.2h0M53.2 104.8h0M50.0 134.6h0M80.5 159.0h0M48.7 108.7h0M50.3 128.0h0M105.8 155.5h0M46.9 143.0h0M55.9 118.8h0M65.2 120.3h0M63.5 118.8h0M66.7 143.0h0M81.1 152.1h0M62.5 105.8h0M81.7 124.6h0M57.9 131.0h0M106.5 143.5h0M91.3 106.9h0M79.9 150.2h0M101.1 154.2h0M47.3 169.2h0M45.1 154.8h0M75.1 165.3h0M106.5 153.3h0M49.5 146.7h0M51.8 132.0h0M52.6 123.9h0M47.5 139.6h0M50.1 120.1h0M95.3 123.3h0M82.2 161.1h0M86.0 158.0h0M105.5 120.2h0M56.3 169.6h0M104.6 125.2h0M105.1 109.7h0M59.0 161.0h0M50.9 160.9h0M58.7 154.8h0M52.4 137.1h0M81.9 140.9h0M100.9 106.3h0M90.8 160.3h0M78.4 119.6h0M96.6 132.4h0M61.3 155.0h0M94.4 158.4h0M76.6 105.0h0M45.6 140.4h0M46.4 145.0h0M52.8 155.2h0M45.3 149.5h0M58.7 169.9h0M75.3 138.1h0M100.0 122.7h0M108.1 123.5h0M46.4 122.5h0M68.2 143.4h0M48.4 163.7h0M95.3 153.2h0M109.2 107.5h0M89.3 160.5h0M55.8 131.2h0M57.2 165.1h0M75.1 158.8h0M60.6 143.7h0M93.2 126.6h0M61.7 109.6h0M85.5 131.1h0M57.2 125.1h0M65.1 112.2h0M83.1 114.2h0M58.3 127.8h0M109.2 150.8h0M58.0 159.7h0M106.0 125.8h0M96.6 145.6h0M80.6 163.7h0M88.3 146.8h0M105.8 134.1h0M50.9 104.5h0M91.7 135.0h0M101.8 168.2h0M60.8 117.2h0M81.8 105.4h0M50.7 108.9h0M63.6 133.1h0M56.9 149.4h0M94.1 158.9h0M80.1 153.8h0M96.5 152.1h0M64.9 142.0h0M98.4 120.3h0M67.7 104.7h0M83.7 111.6h0M73.4 116.4h0M51.6 162.6h0M65.7 167.2h0M92.7 142.8h0M76.0 146.8h0M97.5 116.6h0M79.7 121.8h0M56.4 118.4h0M96.1 165.6h0M72.6 115.5h0M55.7 124.2h0M68.5 162.3h0M78.7 136.4h0M85.3 115.7h0M68.5 133.1h0M48.3 124.2h0M81.7 143.8h0M61.6 108.8h0M81.7 114.2h0M44.3 167.6h0M92.3 165.8h0M65.0 154.8h0M100.2 145.5h0M46.2 122.1h0M68.7 132.9h0M81.8 116.3h0M58.6 105.5h0M70.5 111.8h0M59.4 105.2h0M99.6 119.0h0M77.5 142.2h0M46.7 140.0h0M96.9 119.7h0M85.6 151.8h0M81.0 127.6h0M77.8 148.1h0M72.9 152.6h0M93.5 153.6h0M72.6 113.6h0M55.5 123.6h0M81.1 107.9h0M64.5 113.7h0M79.3 117.3h0M98.3 108.2h0M67.5 153.3h0M99.0 129.8h0M106.2 162.0h0M81.1 125.8h0M56.7 149.5h0M48.0 146.8h0M59.1 116.3h0M84.6 129.8h0M47.7 113.8h0M96.1 129.7h0M95.5 144.8h0M44.2 126.6h0M83.6 120.1h0M52.8 170.0h0M65.4 147.5h0M73.1 169.3h0M59.0 106.1h0M86.9 149.8h0M99.1 111.3h0M55.6 135.3h0M62.4 112.5h0M53.3 106.9h0M72.2 112.9h0M45.9 110.3h0M90.4 146.6h0M66.8 157.1h0M47.0 131.6h0M105.6 107.5h0M53.8 135.7h0M67.2 108.5h0M99.4 156.2h0M82.7 131.5h0M80.7 137.0h0M81.6 125.1h0M97.8 138.3h0M59.6 142.6h0M95.3 136.9h0M65.4 139.9h0M89.5 116.0h0M102.5 131.0h0M71.6 138.3h0M94.1 115.3h0M56.1 136.2h0M45.0 132.7h0M52.5 117.1h0M68.1 163.1h0M84.4 122.5h0M86.1 137.7h0M44.1 133.0h0M90.3 157.3h0M107.7 105.1h0M77.9 129.1h0M73.4 158.1h0M72.8 139.8h0M94.1 161.4h0M82.5 138.8h0M50.7 128.8h0M56.6 155.0h0M88.3 113.0h0M82.2 161.7h0M100.0 128.8h0M68.2 139.0h0M71.6 168.3h0M100.2 163.0h0M110.0 111.0h0M106.5 127.8h0M61.2 143.7h0M70.3 117.8h0" stroke="#20208a" stroke-width="1.3" stroke-linecap="round"/>
<path d="M108.4 87.9h0M74.5 104.6h0M94.3 98.1h0M93.4 100.4h0M66.0 101.6h0M53.1 105.7h0M104.0 87.3h0M60.7 110.2h0M57.2 111.7h0M85.1 100.1h0M66.6 114.6h0M98.3 105.9h0M65.9 106.6h0M107.0 86.7h0M63.4 107.1h0M76.7 109.6h0M103.3 93.6h0M72.5 108.7h0M71.9 109.7h0M85.7 104.1h0M108.1 90.5h0M65.1 108.0h0M80.6 120.9h0M84.6 101.0h0M60.4 107.3h0M65.0 105.1h0M72.0 109.0h0M87.3 105.5h0M93.2 100.3h0M90.8 108.6h0M48.0 103.1h0M60.9 110.2h0M77.7 108.1h0M65.2 106.3h0M108.3 86.8h0M48.9 98.7h0M90.0 98.5h0M98.2 104.7h0M70.6 110.9h0M64.0 103.2h0M58.9 105.2h0M64.9 101.9h0M95.6 99.8h0M88.9 107.6h0M71.9 111.5h0M93.9 93.8h0M98.3 94.0h0M96.3 97.0h0M60.1 105.5h0M86.3 107.6h0M104.2 92.3h0M49.4 103.6h0M50.6 107.9h0M78.8 105.4h0M109.2 89.1h0M45.3 103.4h0M89.1 104.3h0M81.2 111.7h0M59.9 104.0h0M96.9 97.6h0M56.4 105.9h0M47.0 106.3h0M86.2 102.9h0M62.9 107.7h0M58.2 102.0h0M87.7 102.5h0M77.8 110.3h0M85.8 98.7h0M86.0 102.3h0M108.7 93.9h0M48.6 103.7h0M48.9 98.3h0M61.7 106.9h0M86.2 106.2h0M80.9 115.7h0M93.8 96.4h0M85.5 101.6h0M74.9 107.6h0M65.3 107.1h0M66.6 108.2h0M83.9 106.6h0M109.7 86.4h0M96.1 96.7h0M82.6 97.3h0M64.5 100.4h0M63.7 111.5h0M59.9 103.6h0M81.4 107.0h0M86.0 104.5h0M49.1 101.7h0M63.3 104.0h0M89.1 108.5h0M95.5 97.8h0M48.0 105.0h0M81.4 105.8h0M63.1 107.4h0M93.2 100.6h0M93.6 112.6h0M69.5 104.6h0M67.0 107.2h0M54.5 102.3h0M79.5 106.1h0M77.1 100.8h0M109.0 96.5h0M75.6 106.4h0M65.5 107.4h0M71.4 105.6h0M76.6 117.0h0M55.6 102.2h0M104.6 91.4h0M108.9 98.8h0M79.9 109.3h0M57.3 102.9h0M99.1 94.2h0M78.2 108.6h0M97.6 101.0h0M77.7 109.7h0M61.0 109.6h0M94.9 99.0h0M46.6 103.3h0M50.4 100.4h0M73.3 111.5h0M99.1 96.0h0M107.2 95.1h0M78.7 104.8h0M77.2 100.7h0M81.9 102.2h0M93.5 105.9h0M105.3 94.0h0M65.5 115.9h0M67.0 111.1h0M84.4 101.5h0M109.0 90.4h0M67.3 97.0h0M53.7 98.5h0M65.0 102.9h0M98.1 104.7h0M81.8 105.0h0M75.9 113.3h0M56.1 102.1h0M48.2 100.6h0M60.9 104.4h0M100.3 98.6h0M105.3 101.0h0M71.9 115.4h0M91.4 94.0h0M105.7 89.6h0M61.5 105.5h0M78.1 107.8h0M87.1 114.6h0M92.4 108.4h0M106.1 96.0h0M72.5 104.1h0M83.6 106.7h0M95.2 99.2h0M64.7 106.7h0M75.6 105.3h0M76.6 116.8h0M93.5 95.2h0M98.8 91.0h0M100.5 106.4h0M59.4 108.0h0M86.4 103.4h0M49.1 98.0h0M45.2 102.5h0M63.5 97.9h0M93.9 100.5h0M62.9 105.7h0M100.0 99.5h0M109.0 94.6h0M92.3 93.1h0M52.1 111.7h0M69.7 110.2h0M69.7 110.4h0M69.0 106.4h0M101.9 94.0h0M65.9 109.5h0M100.1 95.8h0M87.1 102.2h0M70.7 109.1h0M55.1 106.1h0M107.6 96.4h0M77.6 105.3h0M108.1 95.9h0M85.4 106.9h0M62.3 105.6h0M47.6 102.2h0M85.5 113.8h0M96.5 97.1h0M55.3 98.8h0M81.4 117.7h0M65.6 105.6h0M64.0 98.4h0M86.9 107.3h0M107.6 93.6h0M97.1 94.8h0M57.7 104.8h0M66.7 105.7h0M66.1 106.1h0M69.9 105.9h0M77.2 111.9h0M52.9 100.7h0M59.7 106.3h0M60.3 105.5h0M109.4 99.8h0M94.5 100.9h0M63.0 106.6h0M73.0 112.0h0M101.4 99.3h0M96.5 100.9h0M49.9 102.5h0M62.0 103.4h0M107.2 89.1h0M66.4 106.1h0M78.0 112.5h0M49.0 100.8h0M53.8 104.4h0M65.8 103.3h0M82.4 108.4h0M55.9 107.0h0M94.6 88.3h0M64.7 104.0h0M81.5 101.6h0M84.7 100.3h0M46.2 100.9h0M75.7 98.3h0M98.4 97.2h0M105.7 95.5h0M108.9 95.4h0M93.8 97.7h0M66.3 107.9h0M63.9 108.9h0M92.3 104.9h0M107.1 95.2h0M101.3 95.2h0M105.9 95.9h0M100.8 97.6h0M55.2 107.9h0M101.4 95.9h0M109.6 94.0h0M101.2 93.3h0M64.3 106.2h0M88.0 109.9h0M96.8 97.6h0M94.7 102.1h0M72.2 109.6h0M65.6 109.1h0M104.7 89.8h0M91.9 112.5h0M98.7 95.9h0M96.5 100.5h0M88.5 97.5h0M100.5 95.2h0M105.4 93.0h0M101.7 98.2h0M97.6 98.0h0M88.0 105.3h0M63.5 112.3h0M65.9 106.2h0M67.8 109.5h0M102.5 92.6h0M89.0 105.4h0M52.0 102.8h0M99.5 94.5h0M65.8 112.3h0M98.5 90.2h0M95.4 91.5h0M59.1 107.8h0M63.1 106.0h0M48.8 102.7h0M97.1 104.2h0M58.8 100.6h0M76.8 104.1h0M47.2 109.8h0M77.9 112.4h0M58.2 106.6h0M108.2 94.2h0M59.2 104.0h0M78.9 108.1h0M105.2 90.6h0M56.2 106.3h0M49.1 101.9h0M67.2 110.9h0M78.6 109.9h0M106.2 95.4h0M86.5 101.2h0M104.3 95.6h0M71.3 110.8h0M78.1 109.0h0M108.4 89.5h0M78.0 102.0h0M67.0 103.3h0M64.8 100.4h0M65.4 103.2h0M76.4 108.9h0M51.2 103.8h0M61.8 104.4h0M104.8 91.8h0M95.2 101.4h0M48.5 106.5h0M85.1 104.9h0" stroke="#d0d040" stroke-width="1.7" stroke-linecap="round"/>
<path d="M102.4 97.7h0M75.9 109.0h0M107.1 92.0h0M102.2 92.0h0M68.6 110.5h0M54.2 103.4h0M72.1 106.9h0M100.0 98.8h0M59.9 104.7h0M86.5 108.2h0M103.1 91.5h0M106.4 93.1h0M103.8 88.6h0M54.5 101.5h0M95.2 93.7h0M67.2 106.1h0M105.5 95.3h0M89.3 96.7h0M73.1 106.4h0M63.0 103.3h0M54.4 103.5h0M107.5 97.1h0M87.3 107.0h0M68.7 108.2h0M77.1 104.1h0M74.9 105.7h0M46.3 104.2h0M53.5 104.6h0M63.0 103.9h0M104.3 86.0h0M86.6 99.9h0M108.3 85.3h0M49.2 96.3h0M90.8 99.4h0M103.8 101.1h0M65.1 102.4h0M81.6 105.4h0M84.7 106.7h0M109.6 95.2h0" stroke="#40a8c0" stroke-width="1.6" stroke-linecap="round"/>
<polygon points="43.4,22.6 45.5,20.4 47.6,19.9 49.8,18.3 51.9,18.2 54.0,16.8 56.1,17.1 58.2,15.9 60.4,16.2 62.5,14.9 64.6,15.1 66.7,13.7 68.8,13.9 71.0,12.5 73.1,12.8 75.2,11.6 77.3,11.9 79.4,10.7 81.6,11.4 83.7,10.8 85.8,11.8 87.9,11.2 90.1,12.2 92.2,11.5 94.3,12.5 96.4,12.0 98.5,13.1 100.7,12.7 102.8,13.8 104.9,13.3 107.0,14.4 109.1,14.0 111.3,15.1 113.4,14.7 115.5,15.8 115.5,16.8 97.0,23.5 79.0,30.2 62.0,27.4 52.0,25.6 43.4,23.4" fill="#1214b4"/>
<path d="M103.2 15.5h0M91.6 19.4h0M68.6 25.0h0M89.2 18.4h0M68.9 16.7h0M66.6 15.8h0M63.1 26.4h0M78.0 23.8h0M90.7 15.6h0M92.5 24.0h0M62.5 25.2h0M69.3 25.3h0M83.5 21.9h0M69.1 19.6h0M84.6 24.2h0M94.9 17.3h0M89.1 21.6h0M78.2 20.8h0M101.2 18.7h0M97.8 22.2h0M47.0 21.3h0M76.5 14.5h0M73.8 21.8h0M74.9 20.3h0M85.4 24.8h0M72.1 26.8h0M85.9 24.7h0M79.4 28.6h0M79.8 18.0h0M94.0 17.1h0M76.7 15.3h0M86.1 15.3h0M81.3 25.2h0M74.1 28.1h0M78.2 15.9h0M69.5 21.2h0M70.4 15.5h0M61.6 23.4h0M73.9 27.9h0M107.5 17.0h0M91.1 15.4h0M63.5 20.9h0M69.4 18.6h0M64.3 23.7h0M105.1 19.7h0M65.4 23.4h0M64.3 18.5h0M97.9 16.5h0" stroke="#06067a" stroke-width="1.4" stroke-linecap="round"/>
<text x="33.6" y="17.8" font-family="Liberation Sans, sans-serif" font-size="12" font-weight="bold" fill="#fff" textLength="5.6" lengthAdjust="spacingAndGlyphs">a</text>
<text x="48.7" y="43.5" font-family="Liberation Sans, sans-serif" font-size="7.9" fill="#fff" stroke="#fff" stroke-width="0.2" textLength="54.2" lengthAdjust="spacingAndGlyphs">Falling Particles</text>
<line x1="47.2" y1="39.2" x2="47.2" y2="63.5" stroke="#fff" stroke-width="0.9"/>
<polygon points="45.4,62 49,62 47.2,66.2" fill="#fff"/>
<g stroke="#f4f4ff" stroke-width="1" fill="none"><line x1="58.5" y1="131" x2="46" y2="139"/><line x1="58.5" y1="131" x2="74.5" y2="139.2"/><line x1="58.5" y1="131" x2="58.5" y2="159"/></g>
<g fill="#f4f4ff"><polygon points="44.5,140 46.5,136 48.6,139.2"/><polygon points="76,140 71.6,139.4 73.4,135.8"/><polygon points="56.8,157.5 60.2,157.5 58.5,161.5"/></g>
<text x="33.2" y="140.8" font-family="Liberation Sans, sans-serif" font-size="7" fill="#fff" font-weight="bold">x</text>
<text x="75.3" y="137.8" font-family="Liberation Sans, sans-serif" font-size="7" fill="#fff" font-weight="bold">y</text>
<text x="52.5" y="162.4" font-family="Liberation Sans, sans-serif" font-size="7.4" fill="#fff" font-weight="bold" textLength="14.3" lengthAdjust="spacingAndGlyphs">z (g)</text>
<rect x="149.8" y="7" width="37.5" height="79.8" fill="#a8a6b4"/><rect x="149.8" y="7" width="1.6" height="79.8" fill="#b6b4c2"/><rect x="185.7" y="7" width="1.6" height="79.8" fill="#b6b4c2"/><rect x="149.8" y="82.3" width="37.5" height="4.5" fill="#9c9aac"/><rect x="149.8" y="82.0" width="37.5" height="0.8" fill="#b6b4c2"/><polygon points="149.8,7.0 187.3,7.0 187.3,14.0 185.7,14.4 184.0,13.7 182.4,14.0 180.8,14.5 179.1,14.6 177.5,14.1 175.9,14.1 174.3,14.0 172.6,14.5 171.0,14.2 169.4,13.6 167.7,15.3 166.1,14.7 164.5,14.9 162.8,14.0 161.2,15.6 159.6,15.3 158.0,13.8 156.3,14.3 154.7,15.0 153.1,15.0 151.4,15.5 149.8,14.4" fill="#5a5ccc"/><polygon points="149.8,7.0 187.3,7.0 187.3,9.6 185.7,10.3 184.0,9.8 182.4,9.9 180.8,9.4 179.1,9.1 177.5,9.6 175.9,9.3 174.3,9.8 172.6,10.5 171.0,10.0 169.4,9.4 167.7,10.4 166.1,10.2 164.5,10.1 162.8,10.4 161.2,10.2 159.6,10.2 158.0,9.6 156.3,10.5 154.7,10.4 153.1,9.3 151.4,10.2 149.8,10.1" fill="#10129a"/><text x="160.6" y="70.8" font-family="Liberation Sans, sans-serif" font-size="9.2" font-weight="bold" font-style="italic" fill="#1a1a28">t</text><text x="165.2" y="70.8" font-family="Liberation Sans, sans-serif" font-size="9.2" font-weight="bold" fill="#1a1a28" textLength="11.2" lengthAdjust="spacingAndGlyphs">= 0</text><rect x="207.8" y="8" width="38" height="78.2" fill="#a8a6b4"/><rect x="207.8" y="8" width="1.6" height="78.2" fill="#b6b4c2"/><rect x="244.2" y="8" width="1.6" height="78.2" fill="#b6b4c2"/><rect x="207.8" y="81.7" width="38" height="4.5" fill="#9c9aac"/><rect x="207.8" y="81.4" width="38" height="0.8" fill="#b6b4c2"/><rect x="207.8" y="9" width="38" height="36.7" fill="url(#t1g)"/><polygon points="207.8,8.0 245.8,8.0 245.8,10.6 244.1,10.2 242.5,11.2 240.8,10.8 239.2,11.1 237.5,11.3 235.9,11.1 234.2,11.3 232.6,10.7 230.9,11.2 229.3,10.7 227.6,11.3 226.0,11.3 224.3,10.3 222.7,10.4 221.0,10.5 219.4,11.4 217.7,10.7 216.1,11.0 214.4,10.6 212.8,10.8 211.1,10.7 209.5,10.6 207.8,10.9" fill="#1a1ca0"/><text x="224" y="72.3" font-family="Liberation Sans, sans-serif" font-size="9" font-weight="bold" font-style="italic" fill="#1a1a28">t</text><text x="226.6" y="74" font-family="Liberation Sans, sans-serif" font-size="5" font-style="italic" fill="#1a1a28">1</text><rect x="146.9" y="93.3" width="35.6" height="77" fill="#4e4cb4"/><rect x="146.9" y="93.3" width="1.6" height="77" fill="#5a58c0"/><rect x="180.9" y="93.3" width="1.6" height="77" fill="#5a58c0"/><polygon points="146.9,95.5 182.5,95.5 182.5,127.6 180.9,126.0 179.3,126.5 177.6,127.5 176.0,127.6 174.4,126.8 172.8,125.9 171.2,126.4 169.6,126.2 167.9,126.4 166.3,127.8 164.7,126.2 163.1,128.0 161.5,128.0 159.8,125.8 158.2,126.7 156.6,127.0 155.0,125.8 153.4,126.8 151.8,128.1 150.1,126.0 148.5,127.3 146.9,126.0" fill="url(#t2g)"/><path d="M163.0 127.0h0M179.3 126.7h0M164.9 127.1h0M153.8 126.8h0M169.1 127.7h0M150.6 126.2h0M150.5 127.7h0M171.3 125.4h0M181.3 128.2h0M170.0 127.1h0M152.8 125.3h0M165.6 125.5h0M154.0 126.0h0M148.4 126.7h0M162.6 127.8h0M165.3 127.2h0" stroke="#c8d0e8" stroke-width="1.1" stroke-linecap="round" opacity="0.8"/><polygon points="146.9,93.3 182.5,93.3 182.5,96.3 180.9,96.4 179.3,95.4 177.6,96.0 176.0,96.1 174.4,95.9 172.8,95.5 171.2,95.9 169.6,95.4 167.9,96.4 166.3,96.3 164.7,96.0 163.1,95.7 161.5,96.4 159.8,96.0 158.2,96.4 156.6,96.3 155.0,95.9 153.4,95.8 151.8,96.0 150.1,95.8 148.5,95.5 146.9,95.7" fill="#12149c"/><text x="162" y="160.3" font-family="Liberation Sans, sans-serif" font-size="9" font-weight="bold" font-style="italic" fill="#1a1a30">t</text><text x="164.6" y="162" font-family="Liberation Sans, sans-serif" font-size="5" font-style="italic" fill="#1a1a30">2</text><rect x="207.2" y="94" width="39.2" height="75.8" fill="#5049be"/><rect x="207.2" y="94" width="1.6" height="75.8" fill="#5a56c4"/><rect x="244.8" y="94" width="1.6" height="75.8" fill="#5a56c4"/><rect x="207.2" y="96" width="39.2" height="3" fill="#6864c8"/><polygon points="207.2,94.0 246.4,94.0 246.4,95.2 244.8,95.1 243.1,96.0 241.5,95.3 239.9,95.3 238.2,96.1 236.6,96.0 235.0,95.4 233.3,96.1 231.7,95.6 230.1,95.8 228.4,95.3 226.8,96.0 225.2,95.8 223.5,96.1 221.9,96.0 220.3,95.4 218.6,95.5 217.0,95.3 215.4,95.2 213.7,95.2 212.1,95.4 210.5,95.7 208.8,95.1 207.2,95.8" fill="#1c1e90"/><text x="202.8" y="160.6" font-family="Liberation Sans, sans-serif" font-size="8.4" fill="#161630" stroke="#161630" stroke-width="0.25" textLength="40.1" lengthAdjust="spacingAndGlyphs">Equilibrium</text><g fill="#fff"><ellipse cx="165" cy="90.4" rx="1.6" ry="0.9"/><ellipse cx="226.5" cy="89.6" rx="1.6" ry="0.9"/><ellipse cx="165.5" cy="172.6" rx="1.2" ry="0.6"/><ellipse cx="226.5" cy="172.6" rx="1.2" ry="0.6"/><ellipse cx="168" cy="4.8" rx="1.2" ry="0.5"/></g>
<line x1="128.5" y1="4.5" x2="128.5" y2="173.5" stroke="#202034" stroke-width="1.1"/>
<line x1="29.5" y1="4.5" x2="29.5" y2="173.5" stroke="#3a3c50" stroke-width="1"/>
<line x1="29" y1="5.1" x2="257" y2="5.1" stroke="#282838" stroke-width="1.6"/>
<line x1="29" y1="173.5" x2="257" y2="173.5" stroke="#2a2a38" stroke-width="1"/>
<rect x="256.5" y="4.5" width="262" height="169" fill="#fff" stroke="#4a4a4a" stroke-width="1.3"/>
<text x="261.1" y="16.6" font-family="Liberation Sans, sans-serif" font-size="10.6" font-weight="bold" fill="#111" textLength="6" lengthAdjust="spacingAndGlyphs">b</text>
<text x="367.8" y="25.5" font-family="Liberation Sans, sans-serif" font-size="10.2" fill="#222" stroke="#222" stroke-width="0.35" textLength="39.2" lengthAdjust="spacingAndGlyphs">Particle 1</text>
<text x="405.7" y="165.5" font-family="Liberation Sans, sans-serif" font-size="10.2" fill="#222" stroke="#222" stroke-width="0.35" textLength="40" lengthAdjust="spacingAndGlyphs">Particle 2</text>
<circle cx="341" cy="37" r="23.8" fill="none" stroke="#6a6a6a" stroke-width="1"/>
<line x1="322.5" y1="21.2" x2="359.5" y2="52.8" stroke="#c8c8c8" stroke-width="0.8"/>
<line x1="356.8" y1="18.5" x2="325.2" y2="55.5" stroke="#c8c8c8" stroke-width="0.8"/>
<circle cx="470.5" cy="147.7" r="23.5" fill="none" stroke="#6a6a6a" stroke-width="1"/>
<line x1="452.3" y1="132.1" x2="488.7" y2="163.3" stroke="#c8c8c8" stroke-width="0.8"/>
<line x1="486.1" y1="129.5" x2="454.9" y2="165.9" stroke="#c8c8c8" stroke-width="0.8"/>
<g transform="translate(341,37) rotate(40.52)"><polyline points="24,0 32,0 32,-16 74.5,-16 74.5,-2" stroke="#666" stroke-width="1" fill="none"/><polyline points="42,-16 42,-9" stroke="#666" stroke-width="1" fill="none"/><polyline points="42.0,-9.0 45.0,-7.3 39.0,-3.9 45.0,-0.5 39.0,2.9 45.0,6.3 42.0,8.0" stroke="#666" stroke-width="1" fill="none"/><polyline points="42,8 42,16 83.5,16 83.5,0 93.5,0" stroke="#666" stroke-width="1" fill="none"/><rect x="70.2" y="-2" width="8.8" height="7.4" stroke="#666" stroke-width="1" fill="none"/><polyline points="70.2,-2 70.2,-5.2" stroke="#666" stroke-width="1" fill="none"/><polyline points="79,-2 79,-5.2" stroke="#666" stroke-width="1" fill="none"/><line x1="74.5" y1="5.4" x2="74.5" y2="16" stroke="#666" stroke-width="1" fill="none"/><line x1="93.5" y1="-11" x2="93.5" y2="12" stroke="#666" stroke-width="1" fill="none"/><line x1="96" y1="-11" x2="96" y2="12" stroke="#666" stroke-width="1" fill="none"/><polyline points="96,0 104.5,0" stroke="#666" stroke-width="1" fill="none"/><polyline points="104.5,-16 104.5,16 113,16" stroke="#666" stroke-width="1" fill="none"/><polyline points="113.0,16.0 114.3,19.0 117.0,13.0 119.7,19.0 122.3,13.0 125.0,19.0 127.7,13.0 129.0,16.0" stroke="#666" stroke-width="1" fill="none"/><polyline points="129,16 137.5,16 137.5,-16 126.8,-16" stroke="#666" stroke-width="1" fill="none"/><polyline points="104.5,-16 119.4,-16" stroke="#666" stroke-width="1" fill="none"/><rect x="119.4" y="-21" width="7.4" height="9" stroke="#666" stroke-width="1" fill="none"/><polyline points="119.4,-21 115.6,-21" stroke="#666" stroke-width="1" fill="none"/><polyline points="119.4,-12 115.6,-12" stroke="#666" stroke-width="1" fill="none"/><polyline points="137.5,0 146.8,0" stroke="#666" stroke-width="1" fill="none"/></g>
<polyline points="272,118.4 282.8,118.4 284.6,122.5 287.2,114.8 289.6,122.5 292.2,114.8 294.6,122.5 297,115 299,118.4 307,118.4" stroke="#666" stroke-width="1" fill="none"/>
<polyline points="272,138.2 283.7,138.2" stroke="#666" stroke-width="1" fill="none"/>
<polyline points="293.5,133.5 283.7,133.5 283.7,143 293.5,143" stroke="#666" stroke-width="1" fill="none"/>
<line x1="291.7" y1="133.5" x2="291.7" y2="143" stroke="#666" stroke-width="1" fill="none"/>
<polyline points="291.7,138.2 307,138.2" stroke="#666" stroke-width="1" fill="none"/>
<line x1="277.5" y1="156.3" x2="301.5" y2="156.3" stroke="#8a8a8a" stroke-width="1"/>
<line x1="277.5" y1="158.6" x2="301.5" y2="158.6" stroke="#8a8a8a" stroke-width="1"/>
<text x="312.2" y="121.9" font-family="Liberation Sans, sans-serif" font-size="8.5" fill="#222" stroke="#222" stroke-width="0.25">Spring force</text>
<text x="312.2" y="141.2" font-family="Liberation Sans, sans-serif" font-size="8.5" fill="#222" stroke="#222" stroke-width="0.25">Damping force</text>
<text x="313.1" y="160.6" font-family="Liberation Sans, sans-serif" font-size="8.5" fill="#222" stroke="#222" stroke-width="0.25">Friction</text>
<polyline points="30.0,313.7 30.0,201 168.8,201 168.8,313.7" fill="none" stroke="#b4b4b4" stroke-width="1"/>
<line x1="30.0" y1="201" x2="168.8" y2="201" stroke="#a8a8a8" stroke-width="1.2"/>
<line x1="29.5" y1="313.7" x2="168.8" y2="313.7" stroke="#555" stroke-width="1"/>
<line x1="28.0" y1="313.7" x2="30.0" y2="313.7" stroke="#777" stroke-width="0.8"/>
<text x="26.4" y="315.8" font-family="Liberation Sans, sans-serif" font-size="8.0" font-weight="bold" fill="#1a1a1a" stroke="#1a1a1a" stroke-width="0.35" text-anchor="end" textLength="10.56" lengthAdjust="spacingAndGlyphs">0.0</text>
<line x1="28.0" y1="298.6" x2="30.0" y2="298.6" stroke="#777" stroke-width="0.8"/>
<text x="26.4" y="300.7" font-family="Liberation Sans, sans-serif" font-size="8.0" font-weight="bold" fill="#1a1a1a" stroke="#1a1a1a" stroke-width="0.35" text-anchor="end" textLength="10.56" lengthAdjust="spacingAndGlyphs">0.1</text>
<line x1="28.0" y1="283.6" x2="30.0" y2="283.6" stroke="#777" stroke-width="0.8"/>
<text x="26.4" y="285.7" font-family="Liberation Sans, sans-serif" font-size="8.0" font-weight="bold" fill="#1a1a1a" stroke="#1a1a1a" stroke-width="0.35" text-anchor="end" textLength="10.56" lengthAdjust="spacingAndGlyphs">0.2</text>
<line x1="28.0" y1="268.5" x2="30.0" y2="268.5" stroke="#777" stroke-width="0.8"/>
<text x="26.4" y="270.6" font-family="Liberation Sans, sans-serif" font-size="8.0" font-weight="bold" fill="#1a1a1a" stroke="#1a1a1a" stroke-width="0.35" text-anchor="end" textLength="10.56" lengthAdjust="spacingAndGlyphs">0.3</text>
<line x1="28.0" y1="253.5" x2="30.0" y2="253.5" stroke="#777" stroke-width="0.8"/>
<text x="26.4" y="255.6" font-family="Liberation Sans, sans-serif" font-size="8.0" font-weight="bold" fill="#1a1a1a" stroke="#1a1a1a" stroke-width="0.35" text-anchor="end" textLength="10.56" lengthAdjust="spacingAndGlyphs">0.4</text>
<line x1="28.0" y1="238.4" x2="30.0" y2="238.4" stroke="#777" stroke-width="0.8"/>
<text x="26.4" y="240.5" font-family="Liberation Sans, sans-serif" font-size="8.0" font-weight="bold" fill="#1a1a1a" stroke="#1a1a1a" stroke-width="0.35" text-anchor="end" textLength="10.56" lengthAdjust="spacingAndGlyphs">0.5</text>
<line x1="28.0" y1="223.3" x2="30.0" y2="223.3" stroke="#777" stroke-width="0.8"/>
<text x="26.4" y="225.4" font-family="Liberation Sans, sans-serif" font-size="8.0" font-weight="bold" fill="#1a1a1a" stroke="#1a1a1a" stroke-width="0.35" text-anchor="end" textLength="10.56" lengthAdjust="spacingAndGlyphs">0.6</text>
<line x1="28.0" y1="208.3" x2="30.0" y2="208.3" stroke="#777" stroke-width="0.8"/>
<text x="26.4" y="210.4" font-family="Liberation Sans, sans-serif" font-size="8.0" font-weight="bold" fill="#1a1a1a" stroke="#1a1a1a" stroke-width="0.35" text-anchor="end" textLength="10.56" lengthAdjust="spacingAndGlyphs">0.7</text>
<line x1="30.0" y1="313.7" x2="30.0" y2="315.7" stroke="#777" stroke-width="0.8"/>
<line x1="39.2" y1="313.7" x2="39.2" y2="315.7" stroke="#777" stroke-width="0.8"/>
<line x1="48.4" y1="313.7" x2="48.4" y2="315.7" stroke="#777" stroke-width="0.8"/>
<line x1="57.6" y1="313.7" x2="57.6" y2="315.7" stroke="#777" stroke-width="0.8"/>
<line x1="66.8" y1="313.7" x2="66.8" y2="315.7" stroke="#777" stroke-width="0.8"/>
<line x1="76.0" y1="313.7" x2="76.0" y2="315.7" stroke="#777" stroke-width="0.8"/>
<line x1="85.2" y1="313.7" x2="85.2" y2="315.7" stroke="#777" stroke-width="0.8"/>
<line x1="94.4" y1="313.7" x2="94.4" y2="315.7" stroke="#777" stroke-width="0.8"/>
<line x1="103.6" y1="313.7" x2="103.6" y2="315.7" stroke="#777" stroke-width="0.8"/>
<line x1="112.8" y1="313.7" x2="112.8" y2="315.7" stroke="#777" stroke-width="0.8"/>
<line x1="122.0" y1="313.7" x2="122.0" y2="315.7" stroke="#777" stroke-width="0.8"/>
<line x1="131.2" y1="313.7" x2="131.2" y2="315.7" stroke="#777" stroke-width="0.8"/>
<line x1="140.4" y1="313.7" x2="140.4" y2="315.7" stroke="#777" stroke-width="0.8"/>
<line x1="149.6" y1="313.7" x2="149.6" y2="315.7" stroke="#777" stroke-width="0.8"/>
<line x1="158.8" y1="313.7" x2="158.8" y2="315.7" stroke="#777" stroke-width="0.8"/>
<line x1="168.0" y1="313.7" x2="168.0" y2="315.7" stroke="#777" stroke-width="0.8"/>
<text x="30.0" y="323.3" font-family="Liberation Sans, sans-serif" font-size="8.0" font-weight="bold" fill="#1a1a1a" stroke="#1a1a1a" stroke-width="0.35" text-anchor="middle" textLength="3.87" lengthAdjust="spacingAndGlyphs">0</text>
<text x="48.4" y="323.3" font-family="Liberation Sans, sans-serif" font-size="8.0" font-weight="bold" fill="#1a1a1a" stroke="#1a1a1a" stroke-width="0.35" text-anchor="middle" textLength="3.87" lengthAdjust="spacingAndGlyphs">2</text>
<text x="66.8" y="323.3" font-family="Liberation Sans, sans-serif" font-size="8.0" font-weight="bold" fill="#1a1a1a" stroke="#1a1a1a" stroke-width="0.35" text-anchor="middle" textLength="3.87" lengthAdjust="spacingAndGlyphs">4</text>
<text x="85.2" y="323.3" font-family="Liberation Sans, sans-serif" font-size="8.0" font-weight="bold" fill="#1a1a1a" stroke="#1a1a1a" stroke-width="0.35" text-anchor="middle" textLength="3.87" lengthAdjust="spacingAndGlyphs">6</text>
<text x="103.6" y="323.3" font-family="Liberation Sans, sans-serif" font-size="8.0" font-weight="bold" fill="#1a1a1a" stroke="#1a1a1a" stroke-width="0.35" text-anchor="middle" textLength="3.87" lengthAdjust="spacingAndGlyphs">8</text>
<text x="122.0" y="323.3" font-family="Liberation Sans, sans-serif" font-size="8.0" font-weight="bold" fill="#1a1a1a" stroke="#1a1a1a" stroke-width="0.35" text-anchor="middle" textLength="7.74" lengthAdjust="spacingAndGlyphs">10</text>
<text x="140.4" y="323.3" font-family="Liberation Sans, sans-serif" font-size="8.0" font-weight="bold" fill="#1a1a1a" stroke="#1a1a1a" stroke-width="0.35" text-anchor="middle" textLength="7.74" lengthAdjust="spacingAndGlyphs">12</text>
<text x="158.8" y="323.3" font-family="Liberation Sans, sans-serif" font-size="8.0" font-weight="bold" fill="#1a1a1a" stroke="#1a1a1a" stroke-width="0.35" text-anchor="middle" textLength="7.74" lengthAdjust="spacingAndGlyphs">14</text>
<text x="98" y="334.5" font-family="Liberation Sans, sans-serif" font-size="8.4" fill="#222" stroke="#222" stroke-width="0.3" text-anchor="middle" textLength="78" lengthAdjust="spacingAndGlyphs">Normalized Distance</text>
<text transform="translate(6.8,260.3) rotate(-90)" font-family="Liberation Sans, sans-serif" font-size="8.2" fill="#222" stroke="#222" stroke-width="0.3" text-anchor="middle" textLength="58.3" lengthAdjust="spacingAndGlyphs">Packing Density</text>
<text x="20.7" y="194" font-family="Liberation Sans, sans-serif" font-size="12.5" fill="#111" stroke="#111" stroke-width="0.45" textLength="5.3" lengthAdjust="spacingAndGlyphs">c</text>
<text x="82.9" y="214.8" font-family="Liberation Sans, sans-serif" font-size="8.4" font-weight="bold" fill="#111" textLength="19.1" lengthAdjust="spacingAndGlyphs">x-axis</text>
<line x1="79.3" y1="271.3" x2="91.3" y2="271.3" stroke="#333" stroke-width="1.1"/>
<text x="92.89999999999999" y="273.7" font-family="Liberation Sans, sans-serif" font-size="6.6" font-weight="bold" fill="#222">23 µm</text>
<line x1="79.3" y1="279.4" x2="91.3" y2="279.4" stroke="#e83030" stroke-width="1.1"/>
<text x="92.89999999999999" y="281.8" font-family="Liberation Sans, sans-serif" font-size="6.6" font-weight="bold" fill="#222">67 µm</text>
<line x1="79.3" y1="287.5" x2="91.3" y2="287.5" stroke="#2828d8" stroke-width="1.1"/>
<text x="92.89999999999999" y="289.9" font-family="Liberation Sans, sans-serif" font-size="6.6" font-weight="bold" fill="#222">330 µm</text>
<path d="M30.0,313.7 30.8,291.1 31.5,279.5 32.3,270.1 33.1,261.9 33.8,254.4 34.6,247.6 35.4,241.2 36.1,235.1 36.9,229.4 37.7,233.0 38.4,241.3 39.2,248.3 40.0,249.6 40.7,248.4 41.5,246.3 42.3,243.9 43.0,242.1 43.8,241.4 44.6,241.7 45.3,242.4 46.1,243.3 46.9,244.2 47.6,244.9 48.4,245.2 49.2,245.0 49.9,244.6 50.7,244.0 51.5,243.5 52.2,243.1 53.0,242.9 53.8,243.0 54.5,243.1 55.3,243.6 56.1,244.4 56.8,244.8 57.6,244.0 58.4,242.4 59.1,241.6 59.9,242.3 60.7,243.7 61.4,244.6 62.2,244.7 63.0,244.3 63.7,243.7 64.5,242.8 65.3,242.0 66.0,241.8 66.8,242.7 67.6,244.1 68.3,244.8 69.1,244.3 69.9,243.1 70.6,242.3 71.4,242.3 72.2,242.8 72.9,242.9 73.7,242.9 74.5,243.2 75.2,243.7 76.0,244.0 76.8,243.6 77.5,243.0 78.3,242.7 79.1,242.7 79.8,242.5 80.6,241.9 81.4,241.5 82.1,242.2 82.9,243.7 83.7,245.1 84.4,245.5 85.2,245.0 86.0,244.3 86.7,243.7 87.5,242.9 88.3,242.0 89.0,241.3 89.8,241.4 90.6,242.2 91.3,242.8 92.1,242.9 92.9,243.0 93.6,243.7 94.4,244.9 95.2,245.7 95.9,245.4 96.7,244.5 97.5,243.7 98.2,243.5 99.0,243.4 99.8,243.1 100.5,243.0 101.3,243.4 102.1,244.1 102.8,244.3 103.6,243.9 104.4,243.6 105.1,244.0 105.9,244.9 106.7,245.3 107.4,244.8 108.2,243.8 109.0,243.1 109.7,243.2 110.5,243.4 111.3,243.7 112.0,244.2 112.8,245.0 113.6,245.9 114.3,245.8 115.1,244.7 115.9,243.4 116.6,243.0 117.4,243.3 118.2,243.9 118.9,244.1 119.7,244.3 120.5,244.8 121.2,245.3 122.0,245.3 122.8,244.4 123.5,243.4 124.3,243.1 125.1,243.5 125.8,243.8 126.6,244.0 127.4,244.2 128.1,244.8 128.9,245.3 129.7,244.9 130.4,243.5 131.2,242.2 132.0,242.0 132.7,243.0 133.5,244.2 134.3,244.9 135.0,245.2 135.8,245.2 136.6,244.8 137.3,243.7 138.1,242.2 138.9,241.3 139.6,241.6 140.4,242.7 141.2,243.6 141.9,243.8 142.7,243.8 143.5,244.2 144.2,244.5 145.0,244.2 145.8,243.5 146.5,243.0 147.3,242.9 148.1,242.9 148.8,242.4 149.6,241.7 150.4,240.8 151.1,240.2 151.9,239.9 152.7,240.3 153.4,241.5 154.2,243.3 155.0,245.5 155.7,247.9 156.5,250.1 157.3,251.9 158.0,253.1 158.8,253.5 159.6,250.8 160.3,244.0 161.1,235.8 161.9,229.6 162.6,229.3 163.4,236.8 164.2,244.7 164.9,253.4 165.7,262.9 166.5,273.9 167.2,287.4 168.0,313.7" fill="none" stroke="#3a3a3a" stroke-width="1.15" stroke-linejoin="round"/>
<path d="M30.0,313.7 30.8,284.8 31.5,269.9 32.3,257.8 33.1,247.3 33.8,237.8 34.6,229.0 35.4,220.8 36.1,218.6 36.9,226.3 37.7,238.1 38.4,249.1 39.2,254.7 40.0,253.2 40.7,246.3 41.5,236.9 42.3,228.9 43.0,225.6 43.8,226.4 44.6,228.7 45.3,231.6 46.1,234.1 46.9,235.4 47.6,235.0 48.4,233.4 49.2,231.2 49.9,229.1 50.7,227.8 51.5,227.9 52.2,228.4 53.0,228.4 53.8,228.5 54.5,228.8 55.3,228.7 56.1,228.4 56.8,229.6 57.6,231.9 58.4,233.8 59.1,233.5 59.9,231.7 60.7,229.8 61.4,228.6 62.2,228.1 63.0,228.5 63.7,229.9 64.5,232.0 65.3,233.4 66.0,233.2 66.8,232.0 67.6,231.5 68.3,231.9 69.1,231.8 69.9,230.3 70.6,228.7 71.4,228.9 72.2,231.0 72.9,232.9 73.7,232.9 74.5,232.0 75.2,231.9 76.0,233.0 76.8,233.8 77.5,233.2 78.3,231.8 79.1,230.9 79.8,230.6 80.6,230.5 81.4,230.1 82.1,230.2 82.9,231.0 83.7,231.8 84.4,232.1 85.2,232.5 86.0,233.8 86.7,235.6 87.5,236.2 88.3,234.8 89.0,232.8 89.8,232.1 90.6,232.5 91.3,232.2 92.1,230.2 92.9,228.2 93.6,228.2 94.4,230.2 95.2,232.1 95.9,232.7 96.7,232.6 97.5,233.0 98.2,233.9 99.0,234.3 99.8,233.5 100.5,232.3 101.3,231.5 102.1,230.9 102.8,230.2 103.6,229.9 104.4,230.7 105.1,232.1 105.9,232.7 106.7,232.0 107.4,231.3 108.2,231.8 109.0,232.8 109.7,232.3 110.5,230.2 111.3,228.2 112.0,228.6 112.8,230.8 113.6,232.7 114.3,233.0 115.1,232.3 115.9,231.8 116.6,231.5 117.4,230.4 118.2,228.5 118.9,227.4 119.7,228.2 120.5,230.4 121.2,232.3 122.0,233.3 122.8,233.3 123.5,232.3 124.3,230.0 125.1,227.3 125.8,226.3 126.6,227.9 127.4,230.8 128.1,232.4 128.9,231.9 129.7,230.8 130.4,230.7 131.2,231.1 132.0,230.5 132.7,228.7 133.5,227.6 134.3,228.5 135.0,230.6 135.8,231.8 136.6,231.4 137.3,230.5 138.1,230.2 138.9,230.3 139.6,230.0 140.4,229.4 141.2,229.3 141.9,229.8 142.7,230.2 143.5,230.5 144.2,231.1 145.0,231.9 145.8,232.0 146.5,231.3 147.3,230.8 148.1,231.0 148.8,232.2 149.6,234.4 150.4,236.8 151.1,238.6 151.9,239.1 152.7,237.4 153.4,233.8 154.2,229.8 155.0,227.4 155.7,228.0 156.5,233.7 157.3,242.2 158.0,249.9 158.8,253.4 159.6,250.8 160.3,242.2 161.1,230.8 161.9,220.6 162.6,215.3 163.4,221.5 164.2,231.1 164.9,241.4 165.7,252.9 166.5,266.0 167.2,282.2 168.0,313.7" fill="none" stroke="#ee3535" stroke-width="1.15" stroke-linejoin="round"/>
<path d="M30.0,313.7 30.8,283.7 31.5,268.2 32.3,255.6 33.1,244.7 33.8,234.8 34.6,225.7 35.4,217.1 36.1,214.9 36.9,222.8 37.7,234.6 38.4,244.9 39.2,248.9 40.0,246.6 40.7,240.5 41.5,232.9 42.3,226.6 43.0,224.1 43.8,225.0 44.6,227.4 45.3,230.6 46.1,233.3 46.9,234.6 47.6,234.2 48.4,232.4 49.2,229.9 49.9,227.4 50.7,225.9 51.5,225.9 52.2,226.1 53.0,225.9 53.8,225.9 54.5,226.2 55.3,226.1 56.1,225.9 56.8,226.8 57.6,228.9 58.4,230.4 59.1,230.1 59.9,228.3 60.7,226.7 61.4,225.8 62.2,225.5 63.0,225.9 63.7,227.1 64.5,229.0 65.3,230.1 66.0,229.7 66.8,228.6 67.6,228.4 68.3,229.1 69.1,229.2 69.9,227.7 70.6,225.9 71.4,225.9 72.2,227.7 72.9,229.4 73.7,229.6 74.5,228.9 75.2,229.1 76.0,230.4 76.8,231.2 77.5,230.5 78.3,228.8 79.1,227.5 79.8,227.2 80.6,227.1 81.4,227.0 82.1,227.4 82.9,228.4 83.7,229.2 84.4,229.3 85.2,229.4 86.0,230.5 86.7,232.2 87.5,232.8 88.3,231.6 89.0,230.0 89.8,229.5 90.6,229.9 91.3,229.4 92.1,227.1 92.9,224.9 93.6,224.8 94.4,226.8 95.2,229.0 95.9,229.9 96.7,230.0 97.5,230.4 98.2,231.2 99.0,231.2 99.8,230.1 100.5,228.8 101.3,228.1 102.1,227.8 102.8,227.4 103.6,227.3 104.4,228.1 105.1,229.3 105.9,229.6 106.7,228.6 107.4,227.8 108.2,228.5 109.0,229.7 109.7,229.6 110.5,227.6 111.3,225.6 112.0,225.8 112.8,227.7 113.6,229.4 114.3,229.5 115.1,228.9 115.9,228.8 116.6,228.8 117.4,227.8 118.2,225.9 118.9,224.6 119.7,225.1 120.5,227.0 121.2,228.8 122.0,230.0 122.8,230.3 123.5,229.5 124.3,227.4 125.1,224.7 125.8,223.5 126.6,224.8 127.4,227.4 128.1,228.9 128.9,228.6 129.7,227.8 130.4,228.0 131.2,228.6 132.0,227.9 132.7,225.9 133.5,224.5 134.3,225.1 135.0,227.1 135.8,228.5 136.6,228.4 137.3,227.8 138.1,227.6 138.9,227.7 139.6,227.1 140.4,226.2 141.2,225.9 141.9,226.3 142.7,226.9 143.5,227.4 144.2,228.0 145.0,228.6 145.8,228.5 146.5,227.4 147.3,226.7 148.1,226.8 148.8,227.8 149.6,229.8 150.4,231.8 151.1,233.4 151.9,233.9 152.7,232.1 153.4,228.3 154.2,224.1 155.0,221.5 155.7,222.4 156.5,229.3 157.3,239.7 158.0,249.1 158.8,253.4 159.6,250.5 160.3,241.1 161.1,228.5 161.9,217.4 162.6,211.6 163.4,218.0 164.2,227.9 164.9,238.7 165.7,250.6 166.5,264.2 167.2,281.0 168.0,313.7" fill="none" stroke="#2a2ae0" stroke-width="1.15" stroke-linejoin="round"/>
<polyline points="205.2,314.0 205.2,200.2 338.4,200.2 338.4,314.0" fill="none" stroke="#b4b4b4" stroke-width="1"/>
<line x1="205.2" y1="200.2" x2="338.4" y2="200.2" stroke="#7a7a7a" stroke-width="1.2"/>
<line x1="204.7" y1="314.0" x2="338.4" y2="314.0" stroke="#555" stroke-width="1"/>
<line x1="203.2" y1="314.0" x2="205.2" y2="314.0" stroke="#777" stroke-width="0.8"/>
<text x="201.6" y="316.1" font-family="Liberation Sans, sans-serif" font-size="8.0" font-weight="bold" fill="#1a1a1a" stroke="#1a1a1a" stroke-width="0.35" text-anchor="end" textLength="10.56" lengthAdjust="spacingAndGlyphs">0.0</text>
<line x1="203.2" y1="298.9" x2="205.2" y2="298.9" stroke="#777" stroke-width="0.8"/>
<text x="201.6" y="301.0" font-family="Liberation Sans, sans-serif" font-size="8.0" font-weight="bold" fill="#1a1a1a" stroke="#1a1a1a" stroke-width="0.35" text-anchor="end" textLength="10.56" lengthAdjust="spacingAndGlyphs">0.1</text>
<line x1="203.2" y1="283.7" x2="205.2" y2="283.7" stroke="#777" stroke-width="0.8"/>
<text x="201.6" y="285.8" font-family="Liberation Sans, sans-serif" font-size="8.0" font-weight="bold" fill="#1a1a1a" stroke="#1a1a1a" stroke-width="0.35" text-anchor="end" textLength="10.56" lengthAdjust="spacingAndGlyphs">0.2</text>
<line x1="203.2" y1="268.6" x2="205.2" y2="268.6" stroke="#777" stroke-width="0.8"/>
<text x="201.6" y="270.7" font-family="Liberation Sans, sans-serif" font-size="8.0" font-weight="bold" fill="#1a1a1a" stroke="#1a1a1a" stroke-width="0.35" text-anchor="end" textLength="10.56" lengthAdjust="spacingAndGlyphs">0.3</text>
<line x1="203.2" y1="253.4" x2="205.2" y2="253.4" stroke="#777" stroke-width="0.8"/>
<text x="201.6" y="255.5" font-family="Liberation Sans, sans-serif" font-size="8.0" font-weight="bold" fill="#1a1a1a" stroke="#1a1a1a" stroke-width="0.35" text-anchor="end" textLength="10.56" lengthAdjust="spacingAndGlyphs">0.4</text>
<line x1="203.2" y1="238.2" x2="205.2" y2="238.2" stroke="#777" stroke-width="0.8"/>
<text x="201.6" y="240.3" font-family="Liberation Sans, sans-serif" font-size="8.0" font-weight="bold" fill="#1a1a1a" stroke="#1a1a1a" stroke-width="0.35" text-anchor="end" textLength="10.56" lengthAdjust="spacingAndGlyphs">0.5</text>
<line x1="203.2" y1="223.1" x2="205.2" y2="223.1" stroke="#777" stroke-width="0.8"/>
<text x="201.6" y="225.2" font-family="Liberation Sans, sans-serif" font-size="8.0" font-weight="bold" fill="#1a1a1a" stroke="#1a1a1a" stroke-width="0.35" text-anchor="end" textLength="10.56" lengthAdjust="spacingAndGlyphs">0.6</text>
<line x1="203.2" y1="207.9" x2="205.2" y2="207.9" stroke="#777" stroke-width="0.8"/>
<text x="201.6" y="210.0" font-family="Liberation Sans, sans-serif" font-size="8.0" font-weight="bold" fill="#1a1a1a" stroke="#1a1a1a" stroke-width="0.35" text-anchor="end" textLength="10.56" lengthAdjust="spacingAndGlyphs">0.7</text>
<line x1="205.2" y1="314.0" x2="205.2" y2="316.0" stroke="#777" stroke-width="0.8"/>
<line x1="214.1" y1="314.0" x2="214.1" y2="316.0" stroke="#777" stroke-width="0.8"/>
<line x1="223.0" y1="314.0" x2="223.0" y2="316.0" stroke="#777" stroke-width="0.8"/>
<line x1="231.9" y1="314.0" x2="231.9" y2="316.0" stroke="#777" stroke-width="0.8"/>
<line x1="240.8" y1="314.0" x2="240.8" y2="316.0" stroke="#777" stroke-width="0.8"/>
<line x1="249.6" y1="314.0" x2="249.6" y2="316.0" stroke="#777" stroke-width="0.8"/>
<line x1="258.5" y1="314.0" x2="258.5" y2="316.0" stroke="#777" stroke-width="0.8"/>
<line x1="267.4" y1="314.0" x2="267.4" y2="316.0" stroke="#777" stroke-width="0.8"/>
<line x1="276.3" y1="314.0" x2="276.3" y2="316.0" stroke="#777" stroke-width="0.8"/>
<line x1="285.2" y1="314.0" x2="285.2" y2="316.0" stroke="#777" stroke-width="0.8"/>
<line x1="294.1" y1="314.0" x2="294.1" y2="316.0" stroke="#777" stroke-width="0.8"/>
<line x1="303.0" y1="314.0" x2="303.0" y2="316.0" stroke="#777" stroke-width="0.8"/>
<line x1="311.9" y1="314.0" x2="311.9" y2="316.0" stroke="#777" stroke-width="0.8"/>
<line x1="320.8" y1="314.0" x2="320.8" y2="316.0" stroke="#777" stroke-width="0.8"/>
<line x1="329.7" y1="314.0" x2="329.7" y2="316.0" stroke="#777" stroke-width="0.8"/>
<line x1="338.6" y1="314.0" x2="338.6" y2="316.0" stroke="#777" stroke-width="0.8"/>
<text x="205.2" y="323.6" font-family="Liberation Sans, sans-serif" font-size="8.0" font-weight="bold" fill="#1a1a1a" stroke="#1a1a1a" stroke-width="0.35" text-anchor="middle" textLength="3.87" lengthAdjust="spacingAndGlyphs">0</text>
<text x="223.0" y="323.6" font-family="Liberation Sans, sans-serif" font-size="8.0" font-weight="bold" fill="#1a1a1a" stroke="#1a1a1a" stroke-width="0.35" text-anchor="middle" textLength="3.87" lengthAdjust="spacingAndGlyphs">2</text>
<text x="240.8" y="323.6" font-family="Liberation Sans, sans-serif" font-size="8.0" font-weight="bold" fill="#1a1a1a" stroke="#1a1a1a" stroke-width="0.35" text-anchor="middle" textLength="3.87" lengthAdjust="spacingAndGlyphs">4</text>
<text x="258.5" y="323.6" font-family="Liberation Sans, sans-serif" font-size="8.0" font-weight="bold" fill="#1a1a1a" stroke="#1a1a1a" stroke-width="0.35" text-anchor="middle" textLength="3.87" lengthAdjust="spacingAndGlyphs">6</text>
<text x="276.3" y="323.6" font-family="Liberation Sans, sans-serif" font-size="8.0" font-weight="bold" fill="#1a1a1a" stroke="#1a1a1a" stroke-width="0.35" text-anchor="middle" textLength="3.87" lengthAdjust="spacingAndGlyphs">8</text>
<text x="294.1" y="323.6" font-family="Liberation Sans, sans-serif" font-size="8.0" font-weight="bold" fill="#1a1a1a" stroke="#1a1a1a" stroke-width="0.35" text-anchor="middle" textLength="7.74" lengthAdjust="spacingAndGlyphs">10</text>
<text x="311.9" y="323.6" font-family="Liberation Sans, sans-serif" font-size="8.0" font-weight="bold" fill="#1a1a1a" stroke="#1a1a1a" stroke-width="0.35" text-anchor="middle" textLength="7.74" lengthAdjust="spacingAndGlyphs">12</text>
<text x="329.7" y="323.6" font-family="Liberation Sans, sans-serif" font-size="8.0" font-weight="bold" fill="#1a1a1a" stroke="#1a1a1a" stroke-width="0.35" text-anchor="middle" textLength="7.74" lengthAdjust="spacingAndGlyphs">14</text>
<text x="275.0" y="335.2" font-family="Liberation Sans, sans-serif" font-size="8.4" fill="#222" stroke="#222" stroke-width="0.3" text-anchor="middle" textLength="77.6" lengthAdjust="spacingAndGlyphs">Normalized Distance</text>
<text transform="translate(181.6,259.7) rotate(-90)" font-family="Liberation Sans, sans-serif" font-size="8.2" fill="#222" stroke="#222" stroke-width="0.3" text-anchor="middle" textLength="58.3" lengthAdjust="spacingAndGlyphs">Packing Density</text>
<text x="181.6" y="192.8" font-family="Liberation Sans, sans-serif" font-size="12.5" fill="#111" stroke="#111" stroke-width="0.45" textLength="6.2" lengthAdjust="spacingAndGlyphs">d</text>
<text x="263.8" y="210.3" font-family="Liberation Sans, sans-serif" font-size="8.4" font-weight="bold" fill="#111" textLength="19.1" lengthAdjust="spacingAndGlyphs">y-axis</text>
<line x1="256.3" y1="267.2" x2="268.3" y2="267.2" stroke="#333" stroke-width="1.1"/>
<text x="269.90000000000003" y="269.6" font-family="Liberation Sans, sans-serif" font-size="6.6" font-weight="bold" fill="#222">23 µm</text>
<line x1="256.3" y1="275.3" x2="268.3" y2="275.3" stroke="#e83030" stroke-width="1.1"/>
<text x="269.90000000000003" y="277.7" font-family="Liberation Sans, sans-serif" font-size="6.6" font-weight="bold" fill="#222">67 µm</text>
<line x1="256.3" y1="283.4" x2="268.3" y2="283.4" stroke="#2828d8" stroke-width="1.1"/>
<text x="269.90000000000003" y="285.8" font-family="Liberation Sans, sans-serif" font-size="6.6" font-weight="bold" fill="#222">330 µm</text>
<path d="M205.2,314.0 205.9,291.3 206.7,279.6 207.4,270.1 208.2,261.8 208.9,254.3 209.6,247.5 210.4,241.0 211.1,234.9 211.9,229.1 212.6,227.3 213.3,233.4 214.1,241.8 214.8,247.4 215.6,248.0 216.3,247.5 217.1,246.6 217.8,245.3 218.5,244.0 219.3,242.7 220.0,241.7 220.8,241.0 221.5,240.8 222.2,241.3 223.0,242.4 223.7,243.7 224.5,244.9 225.2,245.7 225.9,245.6 226.7,245.3 227.4,245.1 228.2,244.9 228.9,244.5 229.6,243.8 230.4,243.3 231.1,242.9 231.9,242.5 232.6,241.8 233.4,241.5 234.1,241.7 234.8,242.7 235.6,244.0 236.3,244.9 237.1,244.8 237.8,243.7 238.5,242.3 239.3,241.3 240.0,241.2 240.8,242.0 241.5,243.0 242.2,243.5 243.0,243.5 243.7,243.1 244.5,242.8 245.2,242.9 245.9,243.2 246.7,243.3 247.4,243.0 248.2,242.4 248.9,241.9 249.6,241.9 250.4,242.5 251.1,243.3 251.9,243.8 252.6,243.7 253.4,243.2 254.1,242.5 254.8,242.0 255.6,242.0 256.3,242.2 257.1,242.7 257.8,243.1 258.5,243.5 259.3,243.7 260.0,243.5 260.8,243.0 261.5,242.3 262.2,241.6 263.0,241.5 263.7,242.1 264.5,243.1 265.2,244.1 265.9,244.5 266.7,244.1 267.4,243.0 268.2,241.9 268.9,241.3 269.7,241.3 270.4,241.8 271.1,242.6 271.9,243.5 272.6,244.2 273.4,244.7 274.1,244.7 274.8,244.1 275.6,243.0 276.3,241.6 277.1,240.6 277.8,240.5 278.5,241.2 279.3,242.4 280.0,243.4 280.8,243.8 281.5,243.7 282.2,243.5 283.0,243.7 283.7,244.2 284.5,244.6 285.2,244.5 286.0,243.8 286.7,242.7 287.4,241.9 288.2,241.9 288.9,242.4 289.7,243.1 290.4,243.3 291.1,242.9 291.9,242.3 292.6,242.1 293.4,242.6 294.1,243.4 294.8,244.2 295.6,244.3 296.3,243.8 297.1,243.0 297.8,242.6 298.5,242.8 299.3,243.2 300.0,243.5 300.8,243.4 301.5,242.9 302.2,242.6 303.0,242.9 303.7,243.6 304.5,244.4 305.2,244.6 306.0,244.0 306.7,242.8 307.4,241.9 308.2,241.8 308.9,242.6 309.7,244.0 310.4,245.0 311.1,245.2 311.9,244.4 312.6,243.1 313.4,242.0 314.1,241.6 314.8,242.2 315.6,243.2 316.3,243.9 317.1,243.9 317.8,243.5 318.5,243.0 319.3,242.8 320.0,242.9 320.8,243.1 321.5,243.3 322.3,243.6 323.0,243.9 323.7,244.1 324.5,244.3 325.2,244.3 326.0,244.6 326.7,245.2 327.4,246.1 328.2,246.9 328.9,247.3 329.7,246.7 330.4,243.2 331.1,237.9 331.9,233.1 332.6,230.7 333.4,235.9 334.1,242.8 334.8,250.2 335.6,258.2 336.3,267.0 337.1,277.2 337.8,289.7 338.6,314.0" fill="none" stroke="#3a3a3a" stroke-width="1.15" stroke-linejoin="round"/>
<path d="M205.2,314.0 205.9,284.3 206.7,269.0 207.4,256.7 208.2,245.9 208.9,236.1 209.6,227.1 210.4,218.7 211.1,220.3 211.9,231.8 212.6,245.4 213.3,254.1 214.1,253.9 214.8,248.4 215.6,240.0 216.3,231.5 217.1,226.2 217.8,225.6 218.5,227.3 219.3,230.2 220.0,233.3 220.8,235.6 221.5,236.3 222.2,235.3 223.0,233.4 223.7,231.2 224.5,229.6 225.2,229.2 225.9,229.2 226.7,229.3 227.4,228.7 228.2,228.8 228.9,231.2 229.6,234.8 230.4,235.0 231.1,232.0 231.9,229.0 232.6,228.4 233.4,229.4 234.1,230.0 234.8,230.4 235.6,231.8 236.3,233.6 237.1,233.2 237.8,230.1 238.5,227.1 239.3,227.7 240.0,230.8 240.8,232.9 241.5,232.2 242.2,230.8 243.0,230.8 243.7,231.4 244.5,230.4 245.2,228.4 245.9,227.8 246.7,229.8 247.4,231.9 248.2,231.8 248.9,230.3 249.6,230.1 250.4,231.7 251.1,232.4 251.9,230.9 252.6,228.8 253.4,228.9 254.1,230.4 254.8,230.6 255.6,229.0 256.3,227.7 257.1,228.8 257.8,230.8 258.5,231.1 259.3,229.8 260.0,229.5 260.8,231.4 261.5,233.2 262.2,232.5 263.0,230.3 263.7,229.5 264.5,230.2 265.2,230.1 265.9,228.1 266.7,226.2 267.4,227.2 268.2,230.2 268.9,232.3 269.7,232.2 270.4,231.5 271.1,231.8 271.9,231.8 272.6,229.6 273.4,226.2 274.1,225.3 274.8,227.9 275.6,231.6 276.3,233.0 277.1,232.3 277.8,231.6 278.5,231.5 279.3,230.3 280.0,227.3 280.8,225.3 281.5,226.6 282.2,230.2 283.0,232.5 283.7,232.2 284.5,231.3 285.2,231.6 286.0,232.0 286.7,230.3 287.4,227.5 288.2,226.3 288.9,228.0 289.7,230.2 290.4,230.5 291.1,229.7 291.9,230.1 292.6,232.0 293.4,232.6 294.1,230.8 294.8,228.6 295.6,228.6 296.3,230.1 297.1,230.5 297.8,229.2 298.5,228.4 299.3,229.9 300.0,231.9 300.8,231.9 301.5,230.0 302.2,229.1 303.0,230.1 303.7,231.1 304.5,230.1 305.2,228.3 306.0,228.5 306.7,230.8 307.4,232.3 308.2,231.6 308.9,230.3 309.7,230.5 310.4,231.6 311.1,231.1 311.9,228.7 312.6,227.0 313.4,228.0 314.1,230.3 314.8,231.0 315.6,230.4 316.3,230.6 317.1,231.4 317.8,231.2 318.5,230.3 319.3,230.1 320.0,231.5 320.8,234.1 321.5,236.6 322.3,238.1 323.0,238.0 323.7,236.4 324.5,234.1 325.2,232.0 326.0,231.0 326.7,232.6 327.4,238.2 328.2,245.6 328.9,251.5 329.7,253.4 330.4,249.2 331.1,240.1 331.9,229.8 332.6,222.6 333.4,223.4 334.1,231.4 334.8,240.0 335.6,249.3 336.3,259.5 337.1,271.3 337.8,285.8 338.6,314.0" fill="none" stroke="#ee3535" stroke-width="1.15" stroke-linejoin="round"/>
<path d="M205.2,314.0 205.9,282.2 206.7,265.8 207.4,252.6 208.2,241.0 208.9,230.5 209.6,220.9 210.4,212.2 211.1,218.5 211.9,232.8 212.6,247.1 213.3,253.4 214.1,251.2 214.8,245.1 215.6,236.9 216.3,229.2 217.1,224.5 217.8,223.9 218.5,225.6 219.3,228.5 220.0,231.7 220.8,233.9 221.5,234.6 222.2,233.5 223.0,231.3 223.7,228.8 224.5,226.9 225.2,226.4 225.9,226.2 226.7,225.9 227.4,225.2 228.2,225.1 228.9,227.5 229.6,231.3 230.4,231.5 231.1,228.3 231.9,225.0 232.6,224.2 233.4,225.0 234.1,225.7 234.8,226.3 235.6,228.1 236.3,230.1 237.1,229.7 237.8,226.4 238.5,223.2 239.3,223.4 240.0,226.4 240.8,228.6 241.5,228.2 242.2,227.1 243.0,227.3 243.7,227.9 244.5,226.8 245.2,224.4 245.9,223.5 246.7,225.4 247.4,227.6 248.2,227.8 248.9,226.6 249.6,226.6 250.4,228.2 251.1,228.7 251.9,226.9 252.6,224.6 253.4,224.5 254.1,226.1 254.8,226.6 255.6,225.2 256.3,224.2 257.1,225.3 257.8,227.1 258.5,227.1 259.3,225.5 260.0,225.1 260.8,227.1 261.5,229.1 262.2,228.8 263.0,226.8 263.7,225.9 264.5,226.5 265.2,226.1 265.9,223.8 266.7,221.8 267.4,222.9 268.2,226.2 268.9,228.6 269.7,228.6 270.4,228.0 271.1,228.1 271.9,227.8 272.6,225.3 273.4,221.9 274.1,221.0 274.8,223.9 275.6,227.8 276.3,229.5 277.1,228.8 277.8,227.9 278.5,227.5 279.3,226.0 280.0,222.9 280.8,221.0 281.5,222.6 282.2,226.5 283.0,229.0 283.7,228.7 284.5,227.6 285.2,227.6 286.0,227.7 286.7,225.9 287.4,223.2 288.2,222.3 288.9,224.3 289.7,226.7 290.4,227.0 291.1,225.9 291.9,226.1 292.6,227.7 293.4,228.2 294.1,226.6 294.8,224.6 295.6,224.9 296.3,226.6 297.1,227.0 297.8,225.5 298.5,224.4 299.3,225.6 300.0,227.5 300.8,227.6 301.5,226.0 302.2,225.4 303.0,226.6 303.7,227.6 304.5,226.3 305.2,224.3 306.0,224.2 306.7,226.4 307.4,228.1 308.2,227.7 308.9,226.6 309.7,227.0 310.4,228.1 311.1,227.4 311.9,224.6 312.6,222.7 313.4,223.6 314.1,226.0 314.8,226.9 315.6,226.4 316.3,226.4 317.1,226.9 317.8,226.4 318.5,225.1 319.3,224.8 320.0,226.6 320.8,229.6 321.5,232.7 322.3,234.4 323.0,234.1 323.7,231.4 324.5,227.2 325.2,223.5 326.0,221.6 326.7,223.8 327.4,231.6 328.2,241.8 328.9,250.0 329.7,252.6 330.4,247.3 331.1,235.6 331.9,222.4 332.6,213.0 333.4,213.7 334.1,222.6 334.8,232.0 335.6,242.3 336.3,253.7 337.1,266.7 337.8,282.8 338.6,314.0" fill="none" stroke="#2a2ae0" stroke-width="1.15" stroke-linejoin="round"/>
<polyline points="382.0,313.3 382.0,197.8 515.2,197.8 515.2,313.3" fill="none" stroke="#b4b4b4" stroke-width="1"/>
<line x1="382.0" y1="197.8" x2="515.2" y2="197.8" stroke="#a0a0a0" stroke-width="1.2"/>
<line x1="381.5" y1="313.3" x2="515.2" y2="313.3" stroke="#555" stroke-width="1"/>
<line x1="380.0" y1="313.3" x2="382.0" y2="313.3" stroke="#777" stroke-width="0.8"/>
<text x="378.4" y="315.4" font-family="Liberation Sans, sans-serif" font-size="8.0" font-weight="bold" fill="#1a1a1a" stroke="#1a1a1a" stroke-width="0.35" text-anchor="end" textLength="10.56" lengthAdjust="spacingAndGlyphs">0.0</text>
<line x1="380.0" y1="297.9" x2="382.0" y2="297.9" stroke="#777" stroke-width="0.8"/>
<text x="378.4" y="300.1" font-family="Liberation Sans, sans-serif" font-size="8.0" font-weight="bold" fill="#1a1a1a" stroke="#1a1a1a" stroke-width="0.35" text-anchor="end" textLength="10.56" lengthAdjust="spacingAndGlyphs">0.1</text>
<line x1="380.0" y1="282.6" x2="382.0" y2="282.6" stroke="#777" stroke-width="0.8"/>
<text x="378.4" y="284.7" font-family="Liberation Sans, sans-serif" font-size="8.0" font-weight="bold" fill="#1a1a1a" stroke="#1a1a1a" stroke-width="0.35" text-anchor="end" textLength="10.56" lengthAdjust="spacingAndGlyphs">0.2</text>
<line x1="380.0" y1="267.2" x2="382.0" y2="267.2" stroke="#777" stroke-width="0.8"/>
<text x="378.4" y="269.4" font-family="Liberation Sans, sans-serif" font-size="8.0" font-weight="bold" fill="#1a1a1a" stroke="#1a1a1a" stroke-width="0.35" text-anchor="end" textLength="10.56" lengthAdjust="spacingAndGlyphs">0.3</text>
<line x1="380.0" y1="251.9" x2="382.0" y2="251.9" stroke="#777" stroke-width="0.8"/>
<text x="378.4" y="254.0" font-family="Liberation Sans, sans-serif" font-size="8.0" font-weight="bold" fill="#1a1a1a" stroke="#1a1a1a" stroke-width="0.35" text-anchor="end" textLength="10.56" lengthAdjust="spacingAndGlyphs">0.4</text>
<line x1="380.0" y1="236.6" x2="382.0" y2="236.6" stroke="#777" stroke-width="0.8"/>
<text x="378.4" y="238.7" font-family="Liberation Sans, sans-serif" font-size="8.0" font-weight="bold" fill="#1a1a1a" stroke="#1a1a1a" stroke-width="0.35" text-anchor="end" textLength="10.56" lengthAdjust="spacingAndGlyphs">0.5</text>
<line x1="380.0" y1="221.2" x2="382.0" y2="221.2" stroke="#777" stroke-width="0.8"/>
<text x="378.4" y="223.3" font-family="Liberation Sans, sans-serif" font-size="8.0" font-weight="bold" fill="#1a1a1a" stroke="#1a1a1a" stroke-width="0.35" text-anchor="end" textLength="10.56" lengthAdjust="spacingAndGlyphs">0.6</text>
<line x1="380.0" y1="205.9" x2="382.0" y2="205.9" stroke="#777" stroke-width="0.8"/>
<text x="378.4" y="208.0" font-family="Liberation Sans, sans-serif" font-size="8.0" font-weight="bold" fill="#1a1a1a" stroke="#1a1a1a" stroke-width="0.35" text-anchor="end" textLength="10.56" lengthAdjust="spacingAndGlyphs">0.7</text>
<line x1="382.0" y1="313.3" x2="382.0" y2="315.3" stroke="#777" stroke-width="0.8"/>
<line x1="398.6" y1="313.3" x2="398.6" y2="315.3" stroke="#777" stroke-width="0.8"/>
<line x1="415.3" y1="313.3" x2="415.3" y2="315.3" stroke="#777" stroke-width="0.8"/>
<line x1="431.9" y1="313.3" x2="431.9" y2="315.3" stroke="#777" stroke-width="0.8"/>
<line x1="448.6" y1="313.3" x2="448.6" y2="315.3" stroke="#777" stroke-width="0.8"/>
<line x1="465.2" y1="313.3" x2="465.2" y2="315.3" stroke="#777" stroke-width="0.8"/>
<line x1="481.9" y1="313.3" x2="481.9" y2="315.3" stroke="#777" stroke-width="0.8"/>
<line x1="498.6" y1="313.3" x2="498.6" y2="315.3" stroke="#777" stroke-width="0.8"/>
<line x1="515.2" y1="313.3" x2="515.2" y2="315.3" stroke="#777" stroke-width="0.8"/>
<text x="382.0" y="322.9" font-family="Liberation Sans, sans-serif" font-size="8.0" font-weight="bold" fill="#1a1a1a" stroke="#1a1a1a" stroke-width="0.35" text-anchor="middle" textLength="3.87" lengthAdjust="spacingAndGlyphs">0</text>
<text x="415.3" y="322.9" font-family="Liberation Sans, sans-serif" font-size="8.0" font-weight="bold" fill="#1a1a1a" stroke="#1a1a1a" stroke-width="0.35" text-anchor="middle" textLength="3.87" lengthAdjust="spacingAndGlyphs">5</text>
<text x="448.6" y="322.9" font-family="Liberation Sans, sans-serif" font-size="8.0" font-weight="bold" fill="#1a1a1a" stroke="#1a1a1a" stroke-width="0.35" text-anchor="middle" textLength="7.74" lengthAdjust="spacingAndGlyphs">10</text>
<text x="481.9" y="322.9" font-family="Liberation Sans, sans-serif" font-size="8.0" font-weight="bold" fill="#1a1a1a" stroke="#1a1a1a" stroke-width="0.35" text-anchor="middle" textLength="7.74" lengthAdjust="spacingAndGlyphs">15</text>
<text x="515.2" y="322.9" font-family="Liberation Sans, sans-serif" font-size="8.0" font-weight="bold" fill="#1a1a1a" stroke="#1a1a1a" stroke-width="0.35" text-anchor="middle" textLength="7.74" lengthAdjust="spacingAndGlyphs">20</text>
<text x="452.8" y="332.4" font-family="Liberation Sans, sans-serif" font-size="8.4" fill="#222" stroke="#222" stroke-width="0.3" text-anchor="middle" textLength="78.2" lengthAdjust="spacingAndGlyphs">Normalized Distance</text>
<text transform="translate(361,259.8) rotate(-90)" font-family="Liberation Sans, sans-serif" font-size="8.2" fill="#222" stroke="#222" stroke-width="0.3" text-anchor="middle" textLength="58.3" lengthAdjust="spacingAndGlyphs">Packing Density</text>
<text x="358.1" y="193.6" font-family="Liberation Sans, sans-serif" font-size="12.5" fill="#111" stroke="#111" stroke-width="0.45" textLength="6.4" lengthAdjust="spacingAndGlyphs">e</text>
<text x="444.2" y="208" font-family="Liberation Sans, sans-serif" font-size="8.4" font-weight="bold" fill="#111" textLength="19.1" lengthAdjust="spacingAndGlyphs">z-axis</text>
<line x1="421.5" y1="269.6" x2="433.5" y2="269.6" stroke="#333" stroke-width="1.1"/>
<text x="435.1" y="272.0" font-family="Liberation Sans, sans-serif" font-size="6.6" font-weight="bold" fill="#222">23 µm</text>
<line x1="421.5" y1="277.7" x2="433.5" y2="277.7" stroke="#e83030" stroke-width="1.1"/>
<text x="435.1" y="280.1" font-family="Liberation Sans, sans-serif" font-size="6.6" font-weight="bold" fill="#222">67 µm</text>
<line x1="421.5" y1="285.8" x2="433.5" y2="285.8" stroke="#2828d8" stroke-width="1.1"/>
<text x="435.1" y="288.2" font-family="Liberation Sans, sans-serif" font-size="6.6" font-weight="bold" fill="#222">330 µm</text>
<path d="M382.0,313.3 382.6,288.7 383.1,276.0 383.7,265.7 384.2,256.7 384.8,248.6 385.3,241.2 385.9,234.2 386.4,229.8 387.0,232.5 387.6,237.5 388.1,242.7 388.7,246.2 389.2,246.6 389.8,244.3 390.3,240.3 390.9,236.4 391.4,234.4 392.0,235.0 392.5,237.8 393.1,240.6 393.7,241.1 394.2,240.2 394.8,238.7 395.3,237.3 395.9,236.6 396.4,237.1 397.0,237.7 397.5,238.0 398.1,239.0 398.6,240.8 399.2,242.0 399.8,240.3 400.3,238.0 400.9,237.3 401.4,238.2 402.0,239.0 402.5,239.2 403.1,239.4 403.6,240.2 404.2,240.8 404.8,240.6 405.3,240.0 405.9,239.7 406.4,239.2 407.0,237.8 407.5,236.4 408.1,236.8 408.6,239.4 409.2,242.0 409.8,242.4 410.3,241.0 410.9,239.8 411.4,239.6 412.0,238.8 412.5,236.8 413.1,235.1 413.6,235.8 414.2,238.5 414.7,241.3 415.3,242.6 415.9,242.6 416.4,241.8 417.0,240.0 417.5,237.5 418.1,235.8 418.6,236.0 419.2,237.4 419.7,238.2 420.3,238.3 420.9,239.0 421.4,241.0 422.0,242.5 422.5,241.7 423.1,239.1 423.6,237.4 424.2,237.6 424.7,238.4 425.3,238.2 425.8,237.2 426.4,237.2 427.0,238.4 427.5,239.6 428.1,240.1 428.6,240.5 429.2,240.9 429.7,240.7 430.3,239.4 430.8,238.1 431.4,237.9 431.9,238.3 432.5,237.8 433.1,236.2 433.6,235.6 434.2,237.4 434.7,240.1 435.3,241.2 435.8,240.5 436.4,239.8 436.9,240.2 437.5,240.8 438.1,240.1 438.6,238.4 439.2,237.2 439.7,237.1 440.3,237.5 440.8,237.9 441.4,238.6 441.9,239.8 442.5,240.4 443.1,239.7 443.6,238.7 444.2,238.9 444.7,239.9 445.3,239.8 445.8,238.1 446.4,236.7 446.9,237.4 447.5,239.7 448.0,241.0 448.6,240.5 449.2,239.6 449.7,239.6 450.3,239.9 450.8,239.1 451.4,237.5 451.9,236.5 452.5,237.0 453.0,238.3 453.6,239.6 454.1,241.3 454.7,242.9 455.3,243.1 455.8,240.9 456.4,237.9 456.9,236.2 457.5,236.7 458.0,237.6 458.6,237.6 459.1,237.7 459.7,239.5 460.3,242.3 460.8,243.8 461.4,242.5 461.9,240.2 462.5,238.6 463.0,238.1 463.6,237.8 464.1,237.5 464.7,237.9 465.2,239.1 465.8,240.2 466.4,240.6 466.9,241.1 467.5,242.0 468.0,242.3 468.6,240.7 469.1,238.1 469.7,236.8 470.2,237.8 470.8,239.3 471.4,239.5 471.9,239.2 472.5,240.1 473.0,242.3 473.6,243.7 474.1,242.6 474.7,240.1 475.2,238.2 475.8,237.6 476.4,237.6 476.9,238.2 477.5,239.7 478.0,241.6 478.6,242.6 479.1,242.0 479.7,240.9 480.2,240.6 480.8,240.6 481.3,239.6 481.9,238.1 482.5,238.0 483.0,240.1 483.6,242.3 484.1,242.5 484.7,240.8 485.2,239.6 485.8,240.0 486.3,240.8 486.9,240.6 487.4,239.9 488.0,239.8 488.6,240.5 489.1,241.1 489.7,241.3 490.2,241.6 490.8,241.9 491.3,241.3 491.9,239.5 492.4,238.1 493.0,238.6 493.6,240.4 494.1,241.4 494.7,241.1 495.2,241.1 495.8,242.6 496.3,244.3 496.9,243.9 497.4,241.3 498.0,238.9 498.6,238.1 499.1,238.4 499.7,238.7 500.2,239.0 500.8,240.0 501.3,241.6 501.9,243.5 502.4,247.9 503.0,256.7 503.5,265.4 504.1,269.2 504.7,268.1 505.2,263.4 505.8,257.7 506.3,252.1 506.9,246.4 507.4,241.4 508.0,239.9 508.5,243.8 509.1,251.7 509.6,259.7 510.2,265.0 510.8,267.5 511.3,267.3 511.9,264.3 512.4,258.2 513.0,250.9 513.5,245.2 514.1,242.5 514.6,242.9 515.2,245.9" fill="none" stroke="#3a3a3a" stroke-width="1.15" stroke-linejoin="round"/>
<path d="M382.0,313.3 382.6,283.5 383.1,268.1 383.7,255.7 384.2,244.8 384.8,235.0 385.3,225.9 385.9,217.5 386.4,212.3 387.0,217.1 387.6,226.1 388.1,236.7 388.7,245.4 389.2,249.5 389.8,246.5 390.3,235.7 390.9,223.1 391.4,215.9 392.0,216.5 392.5,220.6 393.1,225.5 393.7,228.6 394.2,228.1 394.8,224.4 395.3,219.8 395.9,217.3 396.4,218.1 397.0,221.1 397.5,224.8 398.1,227.1 398.6,227.4 399.2,227.5 399.8,227.2 400.3,226.3 400.9,224.9 401.4,223.8 402.0,223.7 402.5,224.7 403.1,225.7 403.6,226.4 404.2,226.3 404.8,225.8 405.3,225.3 405.9,225.1 406.4,225.3 407.0,225.5 407.5,225.4 408.1,224.8 408.6,223.8 409.2,223.2 409.8,223.4 410.3,224.6 410.9,226.2 411.4,227.5 412.0,228.0 412.5,227.6 413.1,226.8 413.6,226.0 414.2,225.6 414.7,225.2 415.3,224.6 415.9,223.5 416.4,222.4 417.0,222.0 417.5,223.0 418.1,225.1 418.6,227.6 419.2,229.2 419.7,229.1 420.3,227.2 420.9,224.8 421.4,223.1 422.0,223.1 422.5,224.6 423.1,226.5 423.6,227.6 424.2,227.4 424.7,226.3 425.3,225.2 425.8,224.8 426.4,225.3 427.0,226.2 427.5,226.9 428.1,227.0 428.6,226.7 429.2,226.3 429.7,226.3 430.3,226.5 430.8,226.6 431.4,226.2 431.9,225.6 432.5,225.1 433.1,225.3 433.6,226.4 434.2,228.0 434.7,229.4 435.3,229.9 435.8,229.1 436.4,227.3 436.9,225.4 437.5,224.2 438.1,224.0 438.6,224.7 439.2,225.8 439.7,226.8 440.3,227.5 440.8,227.9 441.4,228.3 441.9,228.6 442.5,228.7 443.1,228.4 443.6,227.6 444.2,226.5 444.7,225.6 445.3,225.1 445.8,225.3 446.4,226.1 446.9,227.1 447.5,228.1 448.0,228.7 448.6,228.7 449.2,228.1 449.7,226.9 450.3,225.7 450.8,224.8 451.4,224.8 451.9,225.9 452.5,227.4 453.0,228.6 453.6,228.9 454.1,227.9 454.7,226.2 455.3,224.8 455.8,224.4 456.4,225.2 456.9,226.5 457.5,227.7 458.0,228.0 458.6,227.3 459.1,226.2 459.7,225.3 460.3,225.0 460.8,225.3 461.4,225.7 461.9,225.9 462.5,225.8 463.0,225.8 463.6,226.1 464.1,226.9 464.7,227.8 465.2,228.2 465.8,227.4 466.4,225.6 466.9,223.6 467.5,222.1 468.0,221.9 468.6,222.8 469.1,224.1 469.7,225.2 470.2,225.7 470.8,225.9 471.4,226.1 471.9,226.8 472.5,227.8 473.0,228.3 473.6,227.8 474.1,226.2 474.7,224.2 475.2,222.7 475.8,222.4 476.4,223.5 476.9,225.2 477.5,226.4 478.0,226.6 478.6,225.8 479.1,224.9 479.7,224.4 480.2,224.7 480.8,225.4 481.3,225.8 481.9,225.6 482.5,225.0 483.0,224.6 483.6,224.9 484.1,225.9 484.7,226.9 485.2,227.1 485.8,226.2 486.3,224.5 486.9,223.2 487.4,223.0 488.0,224.4 488.6,226.8 489.1,229.0 489.7,230.1 490.2,229.8 490.8,228.4 491.3,226.8 491.9,225.6 492.4,225.1 493.0,225.2 493.6,225.6 494.1,226.2 494.7,226.8 495.2,227.6 495.8,228.6 496.3,229.6 496.9,231.0 497.4,232.4 498.0,233.3 498.6,234.0 499.1,234.6 499.7,235.4 500.2,236.2 500.8,237.2 501.3,238.3 501.9,239.6 502.4,241.2 503.0,243.1 503.5,245.2 504.1,247.2 504.7,248.8 505.2,249.9 505.8,250.6 506.3,251.2 506.9,251.7 507.4,252.5 508.0,253.5 508.5,254.9 509.1,256.8 509.6,259.1 510.2,261.4 510.8,263.1 511.3,263.9 511.9,264.0 512.4,263.8 513.0,264.1 513.5,265.5 514.1,268.0 514.6,271.0 515.2,273.5" fill="none" stroke="#ee3535" stroke-width="1.15" stroke-linejoin="round"/>
<path d="M382.0,313.3 382.6,281.9 383.1,265.6 383.7,252.5 384.2,241.1 384.8,230.7 385.3,221.2 385.9,212.2 386.4,206.8 387.0,211.9 387.6,220.7 388.1,228.7 388.7,231.9 389.2,230.5 389.8,226.8 390.3,222.0 390.9,217.8 391.4,215.6 392.0,216.5 392.5,220.6 393.1,225.5 393.7,228.6 394.2,228.1 394.8,224.4 395.3,219.8 395.9,217.3 396.4,218.0 397.0,220.8 397.5,224.2 398.1,226.4 398.6,226.6 399.2,226.6 399.8,226.2 400.3,225.2 400.9,223.8 401.4,222.6 402.0,222.5 402.5,223.4 403.1,224.5 403.6,225.1 404.2,225.1 404.8,224.6 405.3,224.0 405.9,223.8 406.4,224.0 407.0,224.3 407.5,224.2 408.1,223.5 408.6,222.6 409.2,222.0 409.8,222.2 410.3,223.3 410.9,224.9 411.4,226.3 412.0,226.8 412.5,226.4 413.1,225.6 413.6,224.8 414.2,224.4 414.7,224.0 415.3,223.4 415.9,222.3 416.4,221.2 417.0,220.8 417.5,221.7 418.1,223.9 418.6,226.4 419.2,228.0 419.7,227.8 420.3,226.0 420.9,223.5 421.4,221.9 422.0,221.9 422.5,223.3 423.1,225.2 423.6,226.4 424.2,226.2 424.7,225.1 425.3,224.0 425.8,223.6 426.4,224.1 427.0,225.0 427.5,225.7 428.1,225.8 428.6,225.4 429.2,225.1 429.7,225.1 430.3,225.3 430.8,225.3 431.4,225.0 431.9,224.4 432.5,223.9 433.1,224.1 433.6,225.1 434.2,226.8 434.7,228.2 435.3,228.7 435.8,227.8 436.4,226.1 436.9,224.2 437.5,223.0 438.1,222.8 438.6,223.5 439.2,224.6 439.7,225.6 440.3,226.3 440.8,226.7 441.4,227.1 441.9,227.4 442.5,227.5 443.1,227.1 443.6,226.3 444.2,225.3 444.7,224.4 445.3,223.9 445.8,224.1 446.4,224.8 446.9,225.8 447.5,226.8 448.0,227.4 448.6,227.5 449.2,226.8 449.7,225.7 450.3,224.4 450.8,223.6 451.4,223.6 451.9,224.6 452.5,226.2 453.0,227.4 453.6,227.6 454.1,226.7 454.7,225.0 455.3,223.6 455.8,223.2 456.4,223.9 456.9,225.3 457.5,226.5 458.0,226.8 458.6,226.1 459.1,225.0 459.7,224.1 460.3,223.8 460.8,224.1 461.4,224.5 461.9,224.7 462.5,224.6 463.0,224.5 463.6,224.9 464.1,225.7 464.7,226.6 465.2,226.9 465.8,226.2 466.4,224.4 466.9,222.3 467.5,220.9 468.0,220.6 468.6,221.5 469.1,222.9 469.7,224.0 470.2,224.5 470.8,224.6 471.4,224.9 471.9,225.6 472.5,226.6 473.0,227.1 473.6,226.6 474.1,225.0 474.7,223.0 475.2,221.5 475.8,221.2 476.4,222.3 476.9,223.9 477.5,225.1 478.0,225.3 478.6,224.6 479.1,223.6 479.7,223.2 480.2,223.5 480.8,224.2 481.3,224.6 481.9,224.4 482.5,223.8 483.0,223.4 483.6,223.7 484.1,224.7 484.7,225.7 485.2,225.8 485.8,224.8 486.3,223.1 486.9,221.6 487.4,221.4 488.0,222.7 488.6,225.0 489.1,227.1 489.7,228.1 490.2,227.7 490.8,226.2 491.3,224.4 491.9,223.1 492.4,222.5 493.0,222.5 493.6,222.9 494.1,223.3 494.7,223.9 495.2,224.6 495.8,225.5 496.3,226.3 496.9,226.9 497.4,227.1 498.0,226.7 498.6,226.2 499.1,225.5 499.7,225.3 500.2,225.3 500.8,226.0 501.3,226.7 501.9,226.6 502.4,226.8 503.0,228.3 503.5,231.0 504.1,234.3 504.7,237.4 505.2,239.5 505.8,240.2 506.3,239.5 506.9,237.7 507.4,235.4 508.0,233.2 508.5,231.9 509.1,232.1 509.6,233.8 510.2,236.7 510.8,239.7 511.3,242.1 511.9,243.1 512.4,242.9 513.0,242.0 513.5,241.1 514.1,240.5 514.6,240.3 515.2,240.1" fill="none" stroke="#2a2ae0" stroke-width="1.15" stroke-linejoin="round"/>
</svg>
</body></html>
